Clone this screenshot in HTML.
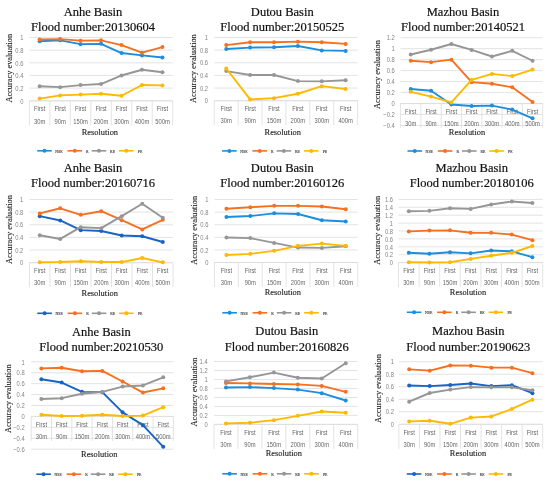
<!DOCTYPE html>
<html><head><meta charset="utf-8"><title>Flood charts</title>
<style>html,body{margin:0;padding:0;background:#fff;}svg{display:block;will-change:transform;}</style>
</head><body>
<svg width="550" height="482" viewBox="0 0 550 482">
<rect width="550" height="482" fill="#fff"/>
<line x1="29.40" y1="100.80" x2="172.70" y2="100.80" stroke="#DCDCDC" stroke-width="0.8"/>
<text x="23.40" y="103.50" text-anchor="end" font-family="'Liberation Sans', sans-serif" font-size="6.4" fill="#858585" textLength="3.24" lengthAdjust="spacingAndGlyphs">0</text>
<line x1="29.40" y1="88.14" x2="172.70" y2="88.14" stroke="#DCDCDC" stroke-width="0.8"/>
<text x="23.40" y="90.84" text-anchor="end" font-family="'Liberation Sans', sans-serif" font-size="6.4" fill="#858585" textLength="8.10" lengthAdjust="spacingAndGlyphs">0.2</text>
<line x1="29.40" y1="75.48" x2="172.70" y2="75.48" stroke="#DCDCDC" stroke-width="0.8"/>
<text x="23.40" y="78.18" text-anchor="end" font-family="'Liberation Sans', sans-serif" font-size="6.4" fill="#858585" textLength="8.10" lengthAdjust="spacingAndGlyphs">0.4</text>
<line x1="29.40" y1="62.82" x2="172.70" y2="62.82" stroke="#DCDCDC" stroke-width="0.8"/>
<text x="23.40" y="65.52" text-anchor="end" font-family="'Liberation Sans', sans-serif" font-size="6.4" fill="#858585" textLength="8.10" lengthAdjust="spacingAndGlyphs">0.6</text>
<line x1="29.40" y1="50.16" x2="172.70" y2="50.16" stroke="#DCDCDC" stroke-width="0.8"/>
<text x="23.40" y="52.86" text-anchor="end" font-family="'Liberation Sans', sans-serif" font-size="6.4" fill="#858585" textLength="8.10" lengthAdjust="spacingAndGlyphs">0.8</text>
<line x1="29.40" y1="37.50" x2="172.70" y2="37.50" stroke="#DCDCDC" stroke-width="0.8"/>
<text x="23.40" y="40.20" text-anchor="end" font-family="'Liberation Sans', sans-serif" font-size="6.4" fill="#858585" textLength="3.24" lengthAdjust="spacingAndGlyphs">1</text>
<line x1="29.40" y1="100.80" x2="29.40" y2="125.30" stroke="#DCDCDC" stroke-width="0.8"/>
<line x1="49.87" y1="100.80" x2="49.87" y2="125.30" stroke="#DCDCDC" stroke-width="0.8"/>
<line x1="70.34" y1="100.80" x2="70.34" y2="125.30" stroke="#DCDCDC" stroke-width="0.8"/>
<line x1="90.81" y1="100.80" x2="90.81" y2="125.30" stroke="#DCDCDC" stroke-width="0.8"/>
<line x1="111.29" y1="100.80" x2="111.29" y2="125.30" stroke="#DCDCDC" stroke-width="0.8"/>
<line x1="131.76" y1="100.80" x2="131.76" y2="125.30" stroke="#DCDCDC" stroke-width="0.8"/>
<line x1="152.23" y1="100.80" x2="152.23" y2="125.30" stroke="#DCDCDC" stroke-width="0.8"/>
<line x1="172.70" y1="100.80" x2="172.70" y2="125.30" stroke="#DCDCDC" stroke-width="0.8"/>
<line x1="29.40" y1="100.80" x2="172.70" y2="100.80" stroke="#DCDCDC" stroke-width="0.8"/>
<text x="39.64" y="111.30" text-anchor="middle" font-family="'Liberation Sans', sans-serif" font-size="6.4" fill="#656565" textLength="11.32" lengthAdjust="spacingAndGlyphs">First</text>
<text x="39.64" y="123.50" text-anchor="middle" font-family="'Liberation Sans', sans-serif" font-size="6.4" fill="#656565" textLength="11.33" lengthAdjust="spacingAndGlyphs">30m</text>
<text x="60.11" y="111.30" text-anchor="middle" font-family="'Liberation Sans', sans-serif" font-size="6.4" fill="#656565" textLength="11.32" lengthAdjust="spacingAndGlyphs">First</text>
<text x="60.11" y="123.50" text-anchor="middle" font-family="'Liberation Sans', sans-serif" font-size="6.4" fill="#656565" textLength="11.33" lengthAdjust="spacingAndGlyphs">90m</text>
<text x="80.58" y="111.30" text-anchor="middle" font-family="'Liberation Sans', sans-serif" font-size="6.4" fill="#656565" textLength="11.32" lengthAdjust="spacingAndGlyphs">First</text>
<text x="80.58" y="123.50" text-anchor="middle" font-family="'Liberation Sans', sans-serif" font-size="6.4" fill="#656565" textLength="14.57" lengthAdjust="spacingAndGlyphs">150m</text>
<text x="101.05" y="111.30" text-anchor="middle" font-family="'Liberation Sans', sans-serif" font-size="6.4" fill="#656565" textLength="11.32" lengthAdjust="spacingAndGlyphs">First</text>
<text x="101.05" y="123.50" text-anchor="middle" font-family="'Liberation Sans', sans-serif" font-size="6.4" fill="#656565" textLength="14.57" lengthAdjust="spacingAndGlyphs">200m</text>
<text x="121.52" y="111.30" text-anchor="middle" font-family="'Liberation Sans', sans-serif" font-size="6.4" fill="#656565" textLength="11.32" lengthAdjust="spacingAndGlyphs">First</text>
<text x="121.52" y="123.50" text-anchor="middle" font-family="'Liberation Sans', sans-serif" font-size="6.4" fill="#656565" textLength="14.57" lengthAdjust="spacingAndGlyphs">300m</text>
<text x="141.99" y="111.30" text-anchor="middle" font-family="'Liberation Sans', sans-serif" font-size="6.4" fill="#656565" textLength="11.32" lengthAdjust="spacingAndGlyphs">First</text>
<text x="141.99" y="123.50" text-anchor="middle" font-family="'Liberation Sans', sans-serif" font-size="6.4" fill="#656565" textLength="14.57" lengthAdjust="spacingAndGlyphs">400m</text>
<text x="162.46" y="111.30" text-anchor="middle" font-family="'Liberation Sans', sans-serif" font-size="6.4" fill="#656565" textLength="11.32" lengthAdjust="spacingAndGlyphs">First</text>
<text x="162.46" y="123.50" text-anchor="middle" font-family="'Liberation Sans', sans-serif" font-size="6.4" fill="#656565" textLength="14.57" lengthAdjust="spacingAndGlyphs">500m</text>
<polyline points="39.64,41.30 60.11,40.35 80.58,44.15 101.05,43.83 121.52,53.01 141.99,55.41 162.46,57.50" fill="none" stroke="#1C8EDD" stroke-width="1.9" stroke-linejoin="round" stroke-linecap="round"/>
<circle cx="39.64" cy="41.30" r="2.0" fill="#1C8EDD"/>
<circle cx="60.11" cy="40.35" r="2.0" fill="#1C8EDD"/>
<circle cx="80.58" cy="44.15" r="2.0" fill="#1C8EDD"/>
<circle cx="101.05" cy="43.83" r="2.0" fill="#1C8EDD"/>
<circle cx="121.52" cy="53.01" r="2.0" fill="#1C8EDD"/>
<circle cx="141.99" cy="55.41" r="2.0" fill="#1C8EDD"/>
<circle cx="162.46" cy="57.50" r="2.0" fill="#1C8EDD"/>
<polyline points="39.64,39.40 60.11,39.08 80.58,40.66 101.05,40.35 121.52,45.10 141.99,52.69 162.46,47.12" fill="none" stroke="#F6701F" stroke-width="1.9" stroke-linejoin="round" stroke-linecap="round"/>
<circle cx="39.64" cy="39.40" r="2.0" fill="#F6701F"/>
<circle cx="60.11" cy="39.08" r="2.0" fill="#F6701F"/>
<circle cx="80.58" cy="40.66" r="2.0" fill="#F6701F"/>
<circle cx="101.05" cy="40.35" r="2.0" fill="#F6701F"/>
<circle cx="121.52" cy="45.10" r="2.0" fill="#F6701F"/>
<circle cx="141.99" cy="52.69" r="2.0" fill="#F6701F"/>
<circle cx="162.46" cy="47.12" r="2.0" fill="#F6701F"/>
<polyline points="39.64,86.24 60.11,87.13 80.58,85.10 101.05,84.03 121.52,75.48 141.99,69.78 162.46,72.19" fill="none" stroke="#969696" stroke-width="1.9" stroke-linejoin="round" stroke-linecap="round"/>
<circle cx="39.64" cy="86.24" r="2.0" fill="#969696"/>
<circle cx="60.11" cy="87.13" r="2.0" fill="#969696"/>
<circle cx="80.58" cy="85.10" r="2.0" fill="#969696"/>
<circle cx="101.05" cy="84.03" r="2.0" fill="#969696"/>
<circle cx="121.52" cy="75.48" r="2.0" fill="#969696"/>
<circle cx="141.99" cy="69.78" r="2.0" fill="#969696"/>
<circle cx="162.46" cy="72.19" r="2.0" fill="#969696"/>
<polyline points="39.64,98.58 60.11,95.42 80.58,94.60 101.05,93.71 121.52,95.74 141.99,84.97 162.46,85.42" fill="none" stroke="#FFB900" stroke-width="1.9" stroke-linejoin="round" stroke-linecap="round"/>
<circle cx="39.64" cy="98.58" r="2.0" fill="#FFB900"/>
<circle cx="60.11" cy="95.42" r="2.0" fill="#FFB900"/>
<circle cx="80.58" cy="94.60" r="2.0" fill="#FFB900"/>
<circle cx="101.05" cy="93.71" r="2.0" fill="#FFB900"/>
<circle cx="121.52" cy="95.74" r="2.0" fill="#FFB900"/>
<circle cx="141.99" cy="84.97" r="2.0" fill="#FFB900"/>
<circle cx="162.46" cy="85.42" r="2.0" fill="#FFB900"/>
<text x="93.00" y="15.80" text-anchor="middle" font-family="'Liberation Serif', serif" font-size="12.5" fill="#111" stroke="#111" stroke-width="0.2">Anhe Basin</text>
<text x="93.00" y="30.50" text-anchor="middle" font-family="'Liberation Serif', serif" font-size="12.5" fill="#111" stroke="#111" stroke-width="0.2">Flood number:20130604</text>
<text transform="translate(12.40,68.20) rotate(-90)" text-anchor="middle" font-family="'Liberation Serif', serif" font-size="8.35" fill="#1a1a1a" stroke="#1a1a1a" stroke-width="0.12">Accuracy evaluation</text>
<text x="99.90" y="134.70" text-anchor="middle" font-family="'Liberation Serif', serif" font-size="8.4" fill="#1a1a1a" stroke="#1a1a1a" stroke-width="0.12">Resolution</text>
<line x1="37.20" y1="150.80" x2="51.80" y2="150.80" stroke="#1C8EDD" stroke-width="1.6"/>
<circle cx="44.50" cy="150.80" r="2.0" fill="#1C8EDD"/>
<text x="55.30" y="152.50" font-family="'Liberation Serif', serif" font-size="5" fill="#333" stroke="#333" stroke-width="0.12" textLength="7.37" lengthAdjust="spacingAndGlyphs">NSE</text>
<line x1="67.50" y1="150.80" x2="82.10" y2="150.80" stroke="#F6701F" stroke-width="1.6"/>
<circle cx="74.80" cy="150.80" r="2.0" fill="#F6701F"/>
<text x="86.10" y="152.50" font-family="'Liberation Serif', serif" font-size="5" fill="#333" stroke="#333" stroke-width="0.12" textLength="2.60" lengthAdjust="spacingAndGlyphs">R</text>
<line x1="91.70" y1="150.80" x2="106.30" y2="150.80" stroke="#969696" stroke-width="1.6"/>
<circle cx="99.00" cy="150.80" r="2.0" fill="#969696"/>
<text x="110.10" y="152.50" font-family="'Liberation Serif', serif" font-size="5" fill="#333" stroke="#333" stroke-width="0.12" textLength="4.98" lengthAdjust="spacingAndGlyphs">RE</text>
<line x1="119.00" y1="150.80" x2="133.60" y2="150.80" stroke="#FFB900" stroke-width="1.6"/>
<circle cx="126.30" cy="150.80" r="2.0" fill="#FFB900"/>
<text x="137.80" y="152.50" font-family="'Liberation Serif', serif" font-size="5" fill="#333" stroke="#333" stroke-width="0.12" textLength="4.55" lengthAdjust="spacingAndGlyphs">PE</text>
<line x1="214.30" y1="100.70" x2="357.60" y2="100.70" stroke="#DCDCDC" stroke-width="0.8"/>
<text x="208.00" y="103.40" text-anchor="end" font-family="'Liberation Sans', sans-serif" font-size="6.4" fill="#858585" textLength="3.24" lengthAdjust="spacingAndGlyphs">0</text>
<line x1="214.30" y1="88.06" x2="357.60" y2="88.06" stroke="#DCDCDC" stroke-width="0.8"/>
<text x="208.00" y="90.76" text-anchor="end" font-family="'Liberation Sans', sans-serif" font-size="6.4" fill="#858585" textLength="8.10" lengthAdjust="spacingAndGlyphs">0.2</text>
<line x1="214.30" y1="75.42" x2="357.60" y2="75.42" stroke="#DCDCDC" stroke-width="0.8"/>
<text x="208.00" y="78.12" text-anchor="end" font-family="'Liberation Sans', sans-serif" font-size="6.4" fill="#858585" textLength="8.10" lengthAdjust="spacingAndGlyphs">0.4</text>
<line x1="214.30" y1="62.78" x2="357.60" y2="62.78" stroke="#DCDCDC" stroke-width="0.8"/>
<text x="208.00" y="65.48" text-anchor="end" font-family="'Liberation Sans', sans-serif" font-size="6.4" fill="#858585" textLength="8.10" lengthAdjust="spacingAndGlyphs">0.6</text>
<line x1="214.30" y1="50.14" x2="357.60" y2="50.14" stroke="#DCDCDC" stroke-width="0.8"/>
<text x="208.00" y="52.84" text-anchor="end" font-family="'Liberation Sans', sans-serif" font-size="6.4" fill="#858585" textLength="8.10" lengthAdjust="spacingAndGlyphs">0.8</text>
<line x1="214.30" y1="37.50" x2="357.60" y2="37.50" stroke="#DCDCDC" stroke-width="0.8"/>
<text x="208.00" y="40.20" text-anchor="end" font-family="'Liberation Sans', sans-serif" font-size="6.4" fill="#858585" textLength="3.24" lengthAdjust="spacingAndGlyphs">1</text>
<line x1="214.30" y1="100.70" x2="214.30" y2="125.20" stroke="#DCDCDC" stroke-width="0.8"/>
<line x1="238.18" y1="100.70" x2="238.18" y2="125.20" stroke="#DCDCDC" stroke-width="0.8"/>
<line x1="262.07" y1="100.70" x2="262.07" y2="125.20" stroke="#DCDCDC" stroke-width="0.8"/>
<line x1="285.95" y1="100.70" x2="285.95" y2="125.20" stroke="#DCDCDC" stroke-width="0.8"/>
<line x1="309.83" y1="100.70" x2="309.83" y2="125.20" stroke="#DCDCDC" stroke-width="0.8"/>
<line x1="333.72" y1="100.70" x2="333.72" y2="125.20" stroke="#DCDCDC" stroke-width="0.8"/>
<line x1="357.60" y1="100.70" x2="357.60" y2="125.20" stroke="#DCDCDC" stroke-width="0.8"/>
<line x1="214.30" y1="100.70" x2="357.60" y2="100.70" stroke="#DCDCDC" stroke-width="0.8"/>
<text x="226.24" y="111.20" text-anchor="middle" font-family="'Liberation Sans', sans-serif" font-size="6.4" fill="#656565" textLength="11.32" lengthAdjust="spacingAndGlyphs">First</text>
<text x="226.24" y="123.40" text-anchor="middle" font-family="'Liberation Sans', sans-serif" font-size="6.4" fill="#656565" textLength="11.33" lengthAdjust="spacingAndGlyphs">30m</text>
<text x="250.12" y="111.20" text-anchor="middle" font-family="'Liberation Sans', sans-serif" font-size="6.4" fill="#656565" textLength="11.32" lengthAdjust="spacingAndGlyphs">First</text>
<text x="250.12" y="123.40" text-anchor="middle" font-family="'Liberation Sans', sans-serif" font-size="6.4" fill="#656565" textLength="11.33" lengthAdjust="spacingAndGlyphs">90m</text>
<text x="274.01" y="111.20" text-anchor="middle" font-family="'Liberation Sans', sans-serif" font-size="6.4" fill="#656565" textLength="11.32" lengthAdjust="spacingAndGlyphs">First</text>
<text x="274.01" y="123.40" text-anchor="middle" font-family="'Liberation Sans', sans-serif" font-size="6.4" fill="#656565" textLength="14.57" lengthAdjust="spacingAndGlyphs">150m</text>
<text x="297.89" y="111.20" text-anchor="middle" font-family="'Liberation Sans', sans-serif" font-size="6.4" fill="#656565" textLength="11.32" lengthAdjust="spacingAndGlyphs">First</text>
<text x="297.89" y="123.40" text-anchor="middle" font-family="'Liberation Sans', sans-serif" font-size="6.4" fill="#656565" textLength="14.57" lengthAdjust="spacingAndGlyphs">200m</text>
<text x="321.78" y="111.20" text-anchor="middle" font-family="'Liberation Sans', sans-serif" font-size="6.4" fill="#656565" textLength="11.32" lengthAdjust="spacingAndGlyphs">First</text>
<text x="321.78" y="123.40" text-anchor="middle" font-family="'Liberation Sans', sans-serif" font-size="6.4" fill="#656565" textLength="14.57" lengthAdjust="spacingAndGlyphs">300m</text>
<text x="345.66" y="111.20" text-anchor="middle" font-family="'Liberation Sans', sans-serif" font-size="6.4" fill="#656565" textLength="11.32" lengthAdjust="spacingAndGlyphs">First</text>
<text x="345.66" y="123.40" text-anchor="middle" font-family="'Liberation Sans', sans-serif" font-size="6.4" fill="#656565" textLength="14.57" lengthAdjust="spacingAndGlyphs">400m</text>
<polyline points="226.24,49.00 250.12,47.61 274.01,47.30 297.89,45.97 321.78,50.39 345.66,50.90" fill="none" stroke="#1C8EDD" stroke-width="1.9" stroke-linejoin="round" stroke-linecap="round"/>
<circle cx="226.24" cy="49.00" r="2.0" fill="#1C8EDD"/>
<circle cx="250.12" cy="47.61" r="2.0" fill="#1C8EDD"/>
<circle cx="274.01" cy="47.30" r="2.0" fill="#1C8EDD"/>
<circle cx="297.89" cy="45.97" r="2.0" fill="#1C8EDD"/>
<circle cx="321.78" cy="50.39" r="2.0" fill="#1C8EDD"/>
<circle cx="345.66" cy="50.90" r="2.0" fill="#1C8EDD"/>
<polyline points="226.24,45.08 250.12,42.30 274.01,42.30 297.89,41.67 321.78,42.30 345.66,43.88" fill="none" stroke="#F6701F" stroke-width="1.9" stroke-linejoin="round" stroke-linecap="round"/>
<circle cx="226.24" cy="45.08" r="2.0" fill="#F6701F"/>
<circle cx="250.12" cy="42.30" r="2.0" fill="#F6701F"/>
<circle cx="274.01" cy="42.30" r="2.0" fill="#F6701F"/>
<circle cx="297.89" cy="41.67" r="2.0" fill="#F6701F"/>
<circle cx="321.78" cy="42.30" r="2.0" fill="#F6701F"/>
<circle cx="345.66" cy="43.88" r="2.0" fill="#F6701F"/>
<polyline points="226.24,71.12 250.12,75.04 274.01,75.04 297.89,81.11 321.78,81.36 345.66,80.22" fill="none" stroke="#969696" stroke-width="1.9" stroke-linejoin="round" stroke-linecap="round"/>
<circle cx="226.24" cy="71.12" r="2.0" fill="#969696"/>
<circle cx="250.12" cy="75.04" r="2.0" fill="#969696"/>
<circle cx="274.01" cy="75.04" r="2.0" fill="#969696"/>
<circle cx="297.89" cy="81.11" r="2.0" fill="#969696"/>
<circle cx="321.78" cy="81.36" r="2.0" fill="#969696"/>
<circle cx="345.66" cy="80.22" r="2.0" fill="#969696"/>
<polyline points="226.24,68.47 250.12,99.44 274.01,98.17 297.89,93.75 321.78,86.16 345.66,89.01" fill="none" stroke="#FFB900" stroke-width="1.9" stroke-linejoin="round" stroke-linecap="round"/>
<circle cx="226.24" cy="68.47" r="2.0" fill="#FFB900"/>
<circle cx="250.12" cy="99.44" r="2.0" fill="#FFB900"/>
<circle cx="274.01" cy="98.17" r="2.0" fill="#FFB900"/>
<circle cx="297.89" cy="93.75" r="2.0" fill="#FFB900"/>
<circle cx="321.78" cy="86.16" r="2.0" fill="#FFB900"/>
<circle cx="345.66" cy="89.01" r="2.0" fill="#FFB900"/>
<text x="282.30" y="15.80" text-anchor="middle" font-family="'Liberation Serif', serif" font-size="12.5" fill="#111" stroke="#111" stroke-width="0.2">Dutou Basin</text>
<text x="282.30" y="30.50" text-anchor="middle" font-family="'Liberation Serif', serif" font-size="12.5" fill="#111" stroke="#111" stroke-width="0.2">Flood number:20150525</text>
<text transform="translate(196.30,68.60) rotate(-90)" text-anchor="middle" font-family="'Liberation Serif', serif" font-size="8.35" fill="#1a1a1a" stroke="#1a1a1a" stroke-width="0.12">Accuracy evaluation</text>
<text x="282.70" y="134.60" text-anchor="middle" font-family="'Liberation Serif', serif" font-size="8.4" fill="#1a1a1a" stroke="#1a1a1a" stroke-width="0.12">Resolution</text>
<line x1="222.10" y1="150.90" x2="236.70" y2="150.90" stroke="#1C8EDD" stroke-width="1.6"/>
<circle cx="229.40" cy="150.90" r="2.0" fill="#1C8EDD"/>
<text x="240.20" y="152.60" font-family="'Liberation Serif', serif" font-size="5" fill="#333" stroke="#333" stroke-width="0.12" textLength="7.37" lengthAdjust="spacingAndGlyphs">NSE</text>
<line x1="252.40" y1="150.90" x2="267.00" y2="150.90" stroke="#F6701F" stroke-width="1.6"/>
<circle cx="259.70" cy="150.90" r="2.0" fill="#F6701F"/>
<text x="271.00" y="152.60" font-family="'Liberation Serif', serif" font-size="5" fill="#333" stroke="#333" stroke-width="0.12" textLength="2.60" lengthAdjust="spacingAndGlyphs">R</text>
<line x1="276.60" y1="150.90" x2="291.20" y2="150.90" stroke="#969696" stroke-width="1.6"/>
<circle cx="283.90" cy="150.90" r="2.0" fill="#969696"/>
<text x="295.00" y="152.60" font-family="'Liberation Serif', serif" font-size="5" fill="#333" stroke="#333" stroke-width="0.12" textLength="4.98" lengthAdjust="spacingAndGlyphs">RE</text>
<line x1="303.90" y1="150.90" x2="318.50" y2="150.90" stroke="#FFB900" stroke-width="1.6"/>
<circle cx="311.20" cy="150.90" r="2.0" fill="#FFB900"/>
<text x="322.70" y="152.60" font-family="'Liberation Serif', serif" font-size="5" fill="#333" stroke="#333" stroke-width="0.12" textLength="4.55" lengthAdjust="spacingAndGlyphs">PE</text>
<line x1="400.60" y1="125.50" x2="542.70" y2="125.50" stroke="#DCDCDC" stroke-width="0.8"/>
<text x="394.80" y="128.20" text-anchor="end" font-family="'Liberation Sans', sans-serif" font-size="6.4" fill="#858585" textLength="11.50" lengthAdjust="spacingAndGlyphs">−0.4</text>
<line x1="400.60" y1="114.53" x2="542.70" y2="114.53" stroke="#DCDCDC" stroke-width="0.8"/>
<text x="394.80" y="117.23" text-anchor="end" font-family="'Liberation Sans', sans-serif" font-size="6.4" fill="#858585" textLength="11.50" lengthAdjust="spacingAndGlyphs">−0.2</text>
<line x1="400.60" y1="103.55" x2="542.70" y2="103.55" stroke="#DCDCDC" stroke-width="0.8"/>
<text x="394.80" y="106.25" text-anchor="end" font-family="'Liberation Sans', sans-serif" font-size="6.4" fill="#858585" textLength="3.24" lengthAdjust="spacingAndGlyphs">0</text>
<line x1="400.60" y1="92.57" x2="542.70" y2="92.57" stroke="#DCDCDC" stroke-width="0.8"/>
<text x="394.80" y="95.27" text-anchor="end" font-family="'Liberation Sans', sans-serif" font-size="6.4" fill="#858585" textLength="8.10" lengthAdjust="spacingAndGlyphs">0.2</text>
<line x1="400.60" y1="81.60" x2="542.70" y2="81.60" stroke="#DCDCDC" stroke-width="0.8"/>
<text x="394.80" y="84.30" text-anchor="end" font-family="'Liberation Sans', sans-serif" font-size="6.4" fill="#858585" textLength="8.10" lengthAdjust="spacingAndGlyphs">0.4</text>
<line x1="400.60" y1="70.62" x2="542.70" y2="70.62" stroke="#DCDCDC" stroke-width="0.8"/>
<text x="394.80" y="73.33" text-anchor="end" font-family="'Liberation Sans', sans-serif" font-size="6.4" fill="#858585" textLength="8.10" lengthAdjust="spacingAndGlyphs">0.6</text>
<line x1="400.60" y1="59.65" x2="542.70" y2="59.65" stroke="#DCDCDC" stroke-width="0.8"/>
<text x="394.80" y="62.35" text-anchor="end" font-family="'Liberation Sans', sans-serif" font-size="6.4" fill="#858585" textLength="8.10" lengthAdjust="spacingAndGlyphs">0.8</text>
<line x1="400.60" y1="48.68" x2="542.70" y2="48.68" stroke="#DCDCDC" stroke-width="0.8"/>
<text x="394.80" y="51.38" text-anchor="end" font-family="'Liberation Sans', sans-serif" font-size="6.4" fill="#858585" textLength="3.24" lengthAdjust="spacingAndGlyphs">1</text>
<line x1="400.60" y1="37.70" x2="542.70" y2="37.70" stroke="#DCDCDC" stroke-width="0.8"/>
<text x="394.80" y="40.40" text-anchor="end" font-family="'Liberation Sans', sans-serif" font-size="6.4" fill="#858585" textLength="8.10" lengthAdjust="spacingAndGlyphs">1.2</text>
<line x1="400.60" y1="103.55" x2="400.60" y2="128.05" stroke="#DCDCDC" stroke-width="0.8"/>
<line x1="420.90" y1="103.55" x2="420.90" y2="128.05" stroke="#DCDCDC" stroke-width="0.8"/>
<line x1="441.20" y1="103.55" x2="441.20" y2="128.05" stroke="#DCDCDC" stroke-width="0.8"/>
<line x1="461.50" y1="103.55" x2="461.50" y2="128.05" stroke="#DCDCDC" stroke-width="0.8"/>
<line x1="481.80" y1="103.55" x2="481.80" y2="128.05" stroke="#DCDCDC" stroke-width="0.8"/>
<line x1="502.10" y1="103.55" x2="502.10" y2="128.05" stroke="#DCDCDC" stroke-width="0.8"/>
<line x1="522.40" y1="103.55" x2="522.40" y2="128.05" stroke="#DCDCDC" stroke-width="0.8"/>
<line x1="542.70" y1="103.55" x2="542.70" y2="128.05" stroke="#DCDCDC" stroke-width="0.8"/>
<line x1="400.60" y1="103.55" x2="542.70" y2="103.55" stroke="#DCDCDC" stroke-width="0.8"/>
<text x="410.75" y="114.05" text-anchor="middle" font-family="'Liberation Sans', sans-serif" font-size="6.4" fill="#656565" textLength="11.32" lengthAdjust="spacingAndGlyphs">First</text>
<text x="410.75" y="126.25" text-anchor="middle" font-family="'Liberation Sans', sans-serif" font-size="6.4" fill="#656565" textLength="11.33" lengthAdjust="spacingAndGlyphs">30m</text>
<text x="431.05" y="114.05" text-anchor="middle" font-family="'Liberation Sans', sans-serif" font-size="6.4" fill="#656565" textLength="11.32" lengthAdjust="spacingAndGlyphs">First</text>
<text x="431.05" y="126.25" text-anchor="middle" font-family="'Liberation Sans', sans-serif" font-size="6.4" fill="#656565" textLength="11.33" lengthAdjust="spacingAndGlyphs">90m</text>
<text x="451.35" y="114.05" text-anchor="middle" font-family="'Liberation Sans', sans-serif" font-size="6.4" fill="#656565" textLength="11.32" lengthAdjust="spacingAndGlyphs">First</text>
<text x="451.35" y="126.25" text-anchor="middle" font-family="'Liberation Sans', sans-serif" font-size="6.4" fill="#656565" textLength="14.57" lengthAdjust="spacingAndGlyphs">150m</text>
<text x="471.65" y="114.05" text-anchor="middle" font-family="'Liberation Sans', sans-serif" font-size="6.4" fill="#656565" textLength="11.32" lengthAdjust="spacingAndGlyphs">First</text>
<text x="471.65" y="126.25" text-anchor="middle" font-family="'Liberation Sans', sans-serif" font-size="6.4" fill="#656565" textLength="14.57" lengthAdjust="spacingAndGlyphs">200m</text>
<text x="491.95" y="114.05" text-anchor="middle" font-family="'Liberation Sans', sans-serif" font-size="6.4" fill="#656565" textLength="11.32" lengthAdjust="spacingAndGlyphs">First</text>
<text x="491.95" y="126.25" text-anchor="middle" font-family="'Liberation Sans', sans-serif" font-size="6.4" fill="#656565" textLength="14.57" lengthAdjust="spacingAndGlyphs">300m</text>
<text x="512.25" y="114.05" text-anchor="middle" font-family="'Liberation Sans', sans-serif" font-size="6.4" fill="#656565" textLength="11.32" lengthAdjust="spacingAndGlyphs">First</text>
<text x="512.25" y="126.25" text-anchor="middle" font-family="'Liberation Sans', sans-serif" font-size="6.4" fill="#656565" textLength="14.57" lengthAdjust="spacingAndGlyphs">400m</text>
<text x="532.55" y="114.05" text-anchor="middle" font-family="'Liberation Sans', sans-serif" font-size="6.4" fill="#656565" textLength="11.32" lengthAdjust="spacingAndGlyphs">First</text>
<text x="532.55" y="126.25" text-anchor="middle" font-family="'Liberation Sans', sans-serif" font-size="6.4" fill="#656565" textLength="14.57" lengthAdjust="spacingAndGlyphs">500m</text>
<polyline points="410.75,88.95 431.05,90.76 451.35,104.54 471.65,105.96 491.95,105.58 512.25,109.59 532.55,118.37" fill="none" stroke="#1C8EDD" stroke-width="1.9" stroke-linejoin="round" stroke-linecap="round"/>
<circle cx="410.75" cy="88.95" r="2.0" fill="#1C8EDD"/>
<circle cx="431.05" cy="90.76" r="2.0" fill="#1C8EDD"/>
<circle cx="451.35" cy="104.54" r="2.0" fill="#1C8EDD"/>
<circle cx="471.65" cy="105.96" r="2.0" fill="#1C8EDD"/>
<circle cx="491.95" cy="105.58" r="2.0" fill="#1C8EDD"/>
<circle cx="512.25" cy="109.59" r="2.0" fill="#1C8EDD"/>
<circle cx="532.55" cy="118.37" r="2.0" fill="#1C8EDD"/>
<polyline points="410.75,60.75 431.05,62.17 451.35,59.65 471.65,82.15 491.95,83.80 512.25,87.25 532.55,101.90" fill="none" stroke="#F6701F" stroke-width="1.9" stroke-linejoin="round" stroke-linecap="round"/>
<circle cx="410.75" cy="60.75" r="2.0" fill="#F6701F"/>
<circle cx="431.05" cy="62.17" r="2.0" fill="#F6701F"/>
<circle cx="451.35" cy="59.65" r="2.0" fill="#F6701F"/>
<circle cx="471.65" cy="82.15" r="2.0" fill="#F6701F"/>
<circle cx="491.95" cy="83.80" r="2.0" fill="#F6701F"/>
<circle cx="512.25" cy="87.25" r="2.0" fill="#F6701F"/>
<circle cx="532.55" cy="101.90" r="2.0" fill="#F6701F"/>
<polyline points="410.75,54.49 431.05,49.77 451.35,44.01 471.65,49.88 491.95,56.52 512.25,50.87 532.55,60.75" fill="none" stroke="#969696" stroke-width="1.9" stroke-linejoin="round" stroke-linecap="round"/>
<circle cx="410.75" cy="54.49" r="2.0" fill="#969696"/>
<circle cx="431.05" cy="49.77" r="2.0" fill="#969696"/>
<circle cx="451.35" cy="44.01" r="2.0" fill="#969696"/>
<circle cx="471.65" cy="49.88" r="2.0" fill="#969696"/>
<circle cx="491.95" cy="56.52" r="2.0" fill="#969696"/>
<circle cx="512.25" cy="50.87" r="2.0" fill="#969696"/>
<circle cx="532.55" cy="60.75" r="2.0" fill="#969696"/>
<polyline points="410.75,91.86 431.05,96.58 451.35,102.45 471.65,79.95 491.95,73.92 512.25,76.11 532.55,69.53" fill="none" stroke="#FFB900" stroke-width="1.9" stroke-linejoin="round" stroke-linecap="round"/>
<circle cx="410.75" cy="91.86" r="2.0" fill="#FFB900"/>
<circle cx="431.05" cy="96.58" r="2.0" fill="#FFB900"/>
<circle cx="451.35" cy="102.45" r="2.0" fill="#FFB900"/>
<circle cx="471.65" cy="79.95" r="2.0" fill="#FFB900"/>
<circle cx="491.95" cy="73.92" r="2.0" fill="#FFB900"/>
<circle cx="512.25" cy="76.11" r="2.0" fill="#FFB900"/>
<circle cx="532.55" cy="69.53" r="2.0" fill="#FFB900"/>
<text x="463.00" y="15.80" text-anchor="middle" font-family="'Liberation Serif', serif" font-size="12.5" fill="#111" stroke="#111" stroke-width="0.2">Mazhou Basin</text>
<text x="463.00" y="30.50" text-anchor="middle" font-family="'Liberation Serif', serif" font-size="12.5" fill="#111" stroke="#111" stroke-width="0.2">Flood number:20140521</text>
<text transform="translate(380.30,74.50) rotate(-90)" text-anchor="middle" font-family="'Liberation Serif', serif" font-size="8.35" fill="#1a1a1a" stroke="#1a1a1a" stroke-width="0.12">Accuracy evaluation</text>
<text x="467.00" y="135.20" text-anchor="middle" font-family="'Liberation Serif', serif" font-size="8.4" fill="#1a1a1a" stroke="#1a1a1a" stroke-width="0.12">Resolution</text>
<line x1="407.50" y1="151.00" x2="422.10" y2="151.00" stroke="#1C8EDD" stroke-width="1.6"/>
<circle cx="414.80" cy="151.00" r="2.0" fill="#1C8EDD"/>
<text x="425.60" y="152.70" font-family="'Liberation Serif', serif" font-size="5" fill="#333" stroke="#333" stroke-width="0.12" textLength="7.37" lengthAdjust="spacingAndGlyphs">NSE</text>
<line x1="437.80" y1="151.00" x2="452.40" y2="151.00" stroke="#F6701F" stroke-width="1.6"/>
<circle cx="445.10" cy="151.00" r="2.0" fill="#F6701F"/>
<text x="456.40" y="152.70" font-family="'Liberation Serif', serif" font-size="5" fill="#333" stroke="#333" stroke-width="0.12" textLength="2.60" lengthAdjust="spacingAndGlyphs">R</text>
<line x1="462.00" y1="151.00" x2="476.60" y2="151.00" stroke="#969696" stroke-width="1.6"/>
<circle cx="469.30" cy="151.00" r="2.0" fill="#969696"/>
<text x="480.40" y="152.70" font-family="'Liberation Serif', serif" font-size="5" fill="#333" stroke="#333" stroke-width="0.12" textLength="4.98" lengthAdjust="spacingAndGlyphs">RE</text>
<line x1="489.30" y1="151.00" x2="503.90" y2="151.00" stroke="#FFB900" stroke-width="1.6"/>
<circle cx="496.60" cy="151.00" r="2.0" fill="#FFB900"/>
<text x="508.10" y="152.70" font-family="'Liberation Serif', serif" font-size="5" fill="#333" stroke="#333" stroke-width="0.12" textLength="4.55" lengthAdjust="spacingAndGlyphs">PE</text>
<line x1="29.50" y1="262.70" x2="173.00" y2="262.70" stroke="#DCDCDC" stroke-width="0.8"/>
<text x="23.30" y="265.40" text-anchor="end" font-family="'Liberation Sans', sans-serif" font-size="6.4" fill="#858585" textLength="3.24" lengthAdjust="spacingAndGlyphs">0</text>
<line x1="29.50" y1="250.06" x2="173.00" y2="250.06" stroke="#DCDCDC" stroke-width="0.8"/>
<text x="23.30" y="252.76" text-anchor="end" font-family="'Liberation Sans', sans-serif" font-size="6.4" fill="#858585" textLength="8.10" lengthAdjust="spacingAndGlyphs">0.2</text>
<line x1="29.50" y1="237.42" x2="173.00" y2="237.42" stroke="#DCDCDC" stroke-width="0.8"/>
<text x="23.30" y="240.12" text-anchor="end" font-family="'Liberation Sans', sans-serif" font-size="6.4" fill="#858585" textLength="8.10" lengthAdjust="spacingAndGlyphs">0.4</text>
<line x1="29.50" y1="224.78" x2="173.00" y2="224.78" stroke="#DCDCDC" stroke-width="0.8"/>
<text x="23.30" y="227.48" text-anchor="end" font-family="'Liberation Sans', sans-serif" font-size="6.4" fill="#858585" textLength="8.10" lengthAdjust="spacingAndGlyphs">0.6</text>
<line x1="29.50" y1="212.14" x2="173.00" y2="212.14" stroke="#DCDCDC" stroke-width="0.8"/>
<text x="23.30" y="214.84" text-anchor="end" font-family="'Liberation Sans', sans-serif" font-size="6.4" fill="#858585" textLength="8.10" lengthAdjust="spacingAndGlyphs">0.8</text>
<line x1="29.50" y1="199.50" x2="173.00" y2="199.50" stroke="#DCDCDC" stroke-width="0.8"/>
<text x="23.30" y="202.20" text-anchor="end" font-family="'Liberation Sans', sans-serif" font-size="6.4" fill="#858585" textLength="3.24" lengthAdjust="spacingAndGlyphs">1</text>
<line x1="29.50" y1="262.70" x2="29.50" y2="287.20" stroke="#DCDCDC" stroke-width="0.8"/>
<line x1="50.00" y1="262.70" x2="50.00" y2="287.20" stroke="#DCDCDC" stroke-width="0.8"/>
<line x1="70.50" y1="262.70" x2="70.50" y2="287.20" stroke="#DCDCDC" stroke-width="0.8"/>
<line x1="91.00" y1="262.70" x2="91.00" y2="287.20" stroke="#DCDCDC" stroke-width="0.8"/>
<line x1="111.50" y1="262.70" x2="111.50" y2="287.20" stroke="#DCDCDC" stroke-width="0.8"/>
<line x1="132.00" y1="262.70" x2="132.00" y2="287.20" stroke="#DCDCDC" stroke-width="0.8"/>
<line x1="152.50" y1="262.70" x2="152.50" y2="287.20" stroke="#DCDCDC" stroke-width="0.8"/>
<line x1="173.00" y1="262.70" x2="173.00" y2="287.20" stroke="#DCDCDC" stroke-width="0.8"/>
<line x1="29.50" y1="262.70" x2="173.00" y2="262.70" stroke="#DCDCDC" stroke-width="0.8"/>
<text x="39.75" y="273.20" text-anchor="middle" font-family="'Liberation Sans', sans-serif" font-size="6.4" fill="#656565" textLength="11.32" lengthAdjust="spacingAndGlyphs">First</text>
<text x="39.75" y="285.40" text-anchor="middle" font-family="'Liberation Sans', sans-serif" font-size="6.4" fill="#656565" textLength="11.33" lengthAdjust="spacingAndGlyphs">30m</text>
<text x="60.25" y="273.20" text-anchor="middle" font-family="'Liberation Sans', sans-serif" font-size="6.4" fill="#656565" textLength="11.32" lengthAdjust="spacingAndGlyphs">First</text>
<text x="60.25" y="285.40" text-anchor="middle" font-family="'Liberation Sans', sans-serif" font-size="6.4" fill="#656565" textLength="11.33" lengthAdjust="spacingAndGlyphs">90m</text>
<text x="80.75" y="273.20" text-anchor="middle" font-family="'Liberation Sans', sans-serif" font-size="6.4" fill="#656565" textLength="11.32" lengthAdjust="spacingAndGlyphs">First</text>
<text x="80.75" y="285.40" text-anchor="middle" font-family="'Liberation Sans', sans-serif" font-size="6.4" fill="#656565" textLength="14.57" lengthAdjust="spacingAndGlyphs">150m</text>
<text x="101.25" y="273.20" text-anchor="middle" font-family="'Liberation Sans', sans-serif" font-size="6.4" fill="#656565" textLength="11.32" lengthAdjust="spacingAndGlyphs">First</text>
<text x="101.25" y="285.40" text-anchor="middle" font-family="'Liberation Sans', sans-serif" font-size="6.4" fill="#656565" textLength="14.57" lengthAdjust="spacingAndGlyphs">200m</text>
<text x="121.75" y="273.20" text-anchor="middle" font-family="'Liberation Sans', sans-serif" font-size="6.4" fill="#656565" textLength="11.32" lengthAdjust="spacingAndGlyphs">First</text>
<text x="121.75" y="285.40" text-anchor="middle" font-family="'Liberation Sans', sans-serif" font-size="6.4" fill="#656565" textLength="14.57" lengthAdjust="spacingAndGlyphs">300m</text>
<text x="142.25" y="273.20" text-anchor="middle" font-family="'Liberation Sans', sans-serif" font-size="6.4" fill="#656565" textLength="11.32" lengthAdjust="spacingAndGlyphs">First</text>
<text x="142.25" y="285.40" text-anchor="middle" font-family="'Liberation Sans', sans-serif" font-size="6.4" fill="#656565" textLength="14.57" lengthAdjust="spacingAndGlyphs">400m</text>
<text x="162.75" y="273.20" text-anchor="middle" font-family="'Liberation Sans', sans-serif" font-size="6.4" fill="#656565" textLength="11.32" lengthAdjust="spacingAndGlyphs">First</text>
<text x="162.75" y="285.40" text-anchor="middle" font-family="'Liberation Sans', sans-serif" font-size="6.4" fill="#656565" textLength="14.57" lengthAdjust="spacingAndGlyphs">500m</text>
<polyline points="39.75,216.18 60.25,220.48 80.75,230.15 101.25,230.97 121.75,235.46 142.25,236.28 162.75,242.03" fill="none" stroke="#1763C6" stroke-width="1.9" stroke-linejoin="round" stroke-linecap="round"/>
<circle cx="39.75" cy="216.18" r="2.0" fill="#1763C6"/>
<circle cx="60.25" cy="220.48" r="2.0" fill="#1763C6"/>
<circle cx="80.75" cy="230.15" r="2.0" fill="#1763C6"/>
<circle cx="101.25" cy="230.97" r="2.0" fill="#1763C6"/>
<circle cx="121.75" cy="235.46" r="2.0" fill="#1763C6"/>
<circle cx="142.25" cy="236.28" r="2.0" fill="#1763C6"/>
<circle cx="162.75" cy="242.03" r="2.0" fill="#1763C6"/>
<polyline points="39.75,213.40 60.25,208.28 80.75,214.86 101.25,211.19 121.75,220.17 142.25,229.46 162.75,219.85" fill="none" stroke="#F6701F" stroke-width="1.9" stroke-linejoin="round" stroke-linecap="round"/>
<circle cx="39.75" cy="213.40" r="2.0" fill="#F6701F"/>
<circle cx="60.25" cy="208.28" r="2.0" fill="#F6701F"/>
<circle cx="80.75" cy="214.86" r="2.0" fill="#F6701F"/>
<circle cx="101.25" cy="211.19" r="2.0" fill="#F6701F"/>
<circle cx="121.75" cy="220.17" r="2.0" fill="#F6701F"/>
<circle cx="142.25" cy="229.46" r="2.0" fill="#F6701F"/>
<circle cx="162.75" cy="219.85" r="2.0" fill="#F6701F"/>
<polyline points="39.75,235.27 60.25,238.94 80.75,227.18 101.25,228.13 121.75,216.18 142.25,203.80 162.75,217.70" fill="none" stroke="#969696" stroke-width="1.9" stroke-linejoin="round" stroke-linecap="round"/>
<circle cx="39.75" cy="235.27" r="2.0" fill="#969696"/>
<circle cx="60.25" cy="238.94" r="2.0" fill="#969696"/>
<circle cx="80.75" cy="227.18" r="2.0" fill="#969696"/>
<circle cx="101.25" cy="228.13" r="2.0" fill="#969696"/>
<circle cx="121.75" cy="216.18" r="2.0" fill="#969696"/>
<circle cx="142.25" cy="203.80" r="2.0" fill="#969696"/>
<circle cx="162.75" cy="217.70" r="2.0" fill="#969696"/>
<polyline points="39.75,262.32 60.25,262.07 80.75,261.31 101.25,262.07 121.75,262.07 142.25,257.96 162.75,262.32" fill="none" stroke="#FFB900" stroke-width="1.9" stroke-linejoin="round" stroke-linecap="round"/>
<circle cx="39.75" cy="262.32" r="2.0" fill="#FFB900"/>
<circle cx="60.25" cy="262.07" r="2.0" fill="#FFB900"/>
<circle cx="80.75" cy="261.31" r="2.0" fill="#FFB900"/>
<circle cx="101.25" cy="262.07" r="2.0" fill="#FFB900"/>
<circle cx="121.75" cy="262.07" r="2.0" fill="#FFB900"/>
<circle cx="142.25" cy="257.96" r="2.0" fill="#FFB900"/>
<circle cx="162.75" cy="262.32" r="2.0" fill="#FFB900"/>
<text x="93.00" y="171.50" text-anchor="middle" font-family="'Liberation Serif', serif" font-size="12.5" fill="#111" stroke="#111" stroke-width="0.2">Anhe Basin</text>
<text x="93.00" y="186.70" text-anchor="middle" font-family="'Liberation Serif', serif" font-size="12.5" fill="#111" stroke="#111" stroke-width="0.2">Flood number:20160716</text>
<text transform="translate(12.40,229.50) rotate(-90)" text-anchor="middle" font-family="'Liberation Serif', serif" font-size="8.35" fill="#1a1a1a" stroke="#1a1a1a" stroke-width="0.12">Accuracy evaluation</text>
<text x="99.70" y="295.60" text-anchor="middle" font-family="'Liberation Serif', serif" font-size="8.4" fill="#1a1a1a" stroke="#1a1a1a" stroke-width="0.12">Resolution</text>
<line x1="37.30" y1="313.30" x2="51.90" y2="313.30" stroke="#1763C6" stroke-width="1.6"/>
<circle cx="44.60" cy="313.30" r="2.0" fill="#1763C6"/>
<text x="55.40" y="315.00" font-family="'Liberation Serif', serif" font-size="5" fill="#333" stroke="#333" stroke-width="0.12" textLength="7.37" lengthAdjust="spacingAndGlyphs">NSE</text>
<line x1="67.60" y1="313.30" x2="82.20" y2="313.30" stroke="#F6701F" stroke-width="1.6"/>
<circle cx="74.90" cy="313.30" r="2.0" fill="#F6701F"/>
<text x="86.20" y="315.00" font-family="'Liberation Serif', serif" font-size="5" fill="#333" stroke="#333" stroke-width="0.12" textLength="2.60" lengthAdjust="spacingAndGlyphs">R</text>
<line x1="91.80" y1="313.30" x2="106.40" y2="313.30" stroke="#969696" stroke-width="1.6"/>
<circle cx="99.10" cy="313.30" r="2.0" fill="#969696"/>
<text x="110.20" y="315.00" font-family="'Liberation Serif', serif" font-size="5" fill="#333" stroke="#333" stroke-width="0.12" textLength="4.98" lengthAdjust="spacingAndGlyphs">RE</text>
<line x1="119.10" y1="313.30" x2="133.70" y2="313.30" stroke="#FFB900" stroke-width="1.6"/>
<circle cx="126.40" cy="313.30" r="2.0" fill="#FFB900"/>
<text x="137.90" y="315.00" font-family="'Liberation Serif', serif" font-size="5" fill="#333" stroke="#333" stroke-width="0.12" textLength="4.55" lengthAdjust="spacingAndGlyphs">PE</text>
<line x1="214.50" y1="262.50" x2="357.70" y2="262.50" stroke="#DCDCDC" stroke-width="0.8"/>
<text x="208.40" y="265.20" text-anchor="end" font-family="'Liberation Sans', sans-serif" font-size="6.4" fill="#858585" textLength="3.24" lengthAdjust="spacingAndGlyphs">0</text>
<line x1="214.50" y1="249.90" x2="357.70" y2="249.90" stroke="#DCDCDC" stroke-width="0.8"/>
<text x="208.40" y="252.60" text-anchor="end" font-family="'Liberation Sans', sans-serif" font-size="6.4" fill="#858585" textLength="8.10" lengthAdjust="spacingAndGlyphs">0.2</text>
<line x1="214.50" y1="237.30" x2="357.70" y2="237.30" stroke="#DCDCDC" stroke-width="0.8"/>
<text x="208.40" y="240.00" text-anchor="end" font-family="'Liberation Sans', sans-serif" font-size="6.4" fill="#858585" textLength="8.10" lengthAdjust="spacingAndGlyphs">0.4</text>
<line x1="214.50" y1="224.70" x2="357.70" y2="224.70" stroke="#DCDCDC" stroke-width="0.8"/>
<text x="208.40" y="227.40" text-anchor="end" font-family="'Liberation Sans', sans-serif" font-size="6.4" fill="#858585" textLength="8.10" lengthAdjust="spacingAndGlyphs">0.6</text>
<line x1="214.50" y1="212.10" x2="357.70" y2="212.10" stroke="#DCDCDC" stroke-width="0.8"/>
<text x="208.40" y="214.80" text-anchor="end" font-family="'Liberation Sans', sans-serif" font-size="6.4" fill="#858585" textLength="8.10" lengthAdjust="spacingAndGlyphs">0.8</text>
<line x1="214.50" y1="199.50" x2="357.70" y2="199.50" stroke="#DCDCDC" stroke-width="0.8"/>
<text x="208.40" y="202.20" text-anchor="end" font-family="'Liberation Sans', sans-serif" font-size="6.4" fill="#858585" textLength="3.24" lengthAdjust="spacingAndGlyphs">1</text>
<line x1="214.50" y1="262.50" x2="214.50" y2="287.00" stroke="#DCDCDC" stroke-width="0.8"/>
<line x1="238.37" y1="262.50" x2="238.37" y2="287.00" stroke="#DCDCDC" stroke-width="0.8"/>
<line x1="262.23" y1="262.50" x2="262.23" y2="287.00" stroke="#DCDCDC" stroke-width="0.8"/>
<line x1="286.10" y1="262.50" x2="286.10" y2="287.00" stroke="#DCDCDC" stroke-width="0.8"/>
<line x1="309.97" y1="262.50" x2="309.97" y2="287.00" stroke="#DCDCDC" stroke-width="0.8"/>
<line x1="333.83" y1="262.50" x2="333.83" y2="287.00" stroke="#DCDCDC" stroke-width="0.8"/>
<line x1="357.70" y1="262.50" x2="357.70" y2="287.00" stroke="#DCDCDC" stroke-width="0.8"/>
<line x1="214.50" y1="262.50" x2="357.70" y2="262.50" stroke="#DCDCDC" stroke-width="0.8"/>
<text x="226.43" y="273.00" text-anchor="middle" font-family="'Liberation Sans', sans-serif" font-size="6.4" fill="#656565" textLength="11.32" lengthAdjust="spacingAndGlyphs">First</text>
<text x="226.43" y="285.20" text-anchor="middle" font-family="'Liberation Sans', sans-serif" font-size="6.4" fill="#656565" textLength="11.33" lengthAdjust="spacingAndGlyphs">30m</text>
<text x="250.30" y="273.00" text-anchor="middle" font-family="'Liberation Sans', sans-serif" font-size="6.4" fill="#656565" textLength="11.32" lengthAdjust="spacingAndGlyphs">First</text>
<text x="250.30" y="285.20" text-anchor="middle" font-family="'Liberation Sans', sans-serif" font-size="6.4" fill="#656565" textLength="11.33" lengthAdjust="spacingAndGlyphs">90m</text>
<text x="274.17" y="273.00" text-anchor="middle" font-family="'Liberation Sans', sans-serif" font-size="6.4" fill="#656565" textLength="11.32" lengthAdjust="spacingAndGlyphs">First</text>
<text x="274.17" y="285.20" text-anchor="middle" font-family="'Liberation Sans', sans-serif" font-size="6.4" fill="#656565" textLength="14.57" lengthAdjust="spacingAndGlyphs">150m</text>
<text x="298.03" y="273.00" text-anchor="middle" font-family="'Liberation Sans', sans-serif" font-size="6.4" fill="#656565" textLength="11.32" lengthAdjust="spacingAndGlyphs">First</text>
<text x="298.03" y="285.20" text-anchor="middle" font-family="'Liberation Sans', sans-serif" font-size="6.4" fill="#656565" textLength="14.57" lengthAdjust="spacingAndGlyphs">200m</text>
<text x="321.90" y="273.00" text-anchor="middle" font-family="'Liberation Sans', sans-serif" font-size="6.4" fill="#656565" textLength="11.32" lengthAdjust="spacingAndGlyphs">First</text>
<text x="321.90" y="285.20" text-anchor="middle" font-family="'Liberation Sans', sans-serif" font-size="6.4" fill="#656565" textLength="14.57" lengthAdjust="spacingAndGlyphs">300m</text>
<text x="345.77" y="273.00" text-anchor="middle" font-family="'Liberation Sans', sans-serif" font-size="6.4" fill="#656565" textLength="11.32" lengthAdjust="spacingAndGlyphs">First</text>
<text x="345.77" y="285.20" text-anchor="middle" font-family="'Liberation Sans', sans-serif" font-size="6.4" fill="#656565" textLength="14.57" lengthAdjust="spacingAndGlyphs">400m</text>
<polyline points="226.43,217.01 250.30,216.01 274.17,213.36 298.03,213.99 321.90,220.29 345.77,221.55" fill="none" stroke="#1C8EDD" stroke-width="1.9" stroke-linejoin="round" stroke-linecap="round"/>
<circle cx="226.43" cy="217.01" r="2.0" fill="#1C8EDD"/>
<circle cx="250.30" cy="216.01" r="2.0" fill="#1C8EDD"/>
<circle cx="274.17" cy="213.36" r="2.0" fill="#1C8EDD"/>
<circle cx="298.03" cy="213.99" r="2.0" fill="#1C8EDD"/>
<circle cx="321.90" cy="220.29" r="2.0" fill="#1C8EDD"/>
<circle cx="345.77" cy="221.55" r="2.0" fill="#1C8EDD"/>
<polyline points="226.43,208.76 250.30,207.25 274.17,205.86 298.03,205.86 321.90,206.56 345.77,209.26" fill="none" stroke="#F6701F" stroke-width="1.9" stroke-linejoin="round" stroke-linecap="round"/>
<circle cx="226.43" cy="208.76" r="2.0" fill="#F6701F"/>
<circle cx="250.30" cy="207.25" r="2.0" fill="#F6701F"/>
<circle cx="274.17" cy="205.86" r="2.0" fill="#F6701F"/>
<circle cx="298.03" cy="205.86" r="2.0" fill="#F6701F"/>
<circle cx="321.90" cy="206.56" r="2.0" fill="#F6701F"/>
<circle cx="345.77" cy="209.26" r="2.0" fill="#F6701F"/>
<polyline points="226.43,237.43 250.30,238.12 274.17,242.91 298.03,247.57 321.90,247.88 345.77,246.18" fill="none" stroke="#969696" stroke-width="1.9" stroke-linejoin="round" stroke-linecap="round"/>
<circle cx="226.43" cy="237.43" r="2.0" fill="#969696"/>
<circle cx="250.30" cy="238.12" r="2.0" fill="#969696"/>
<circle cx="274.17" cy="242.91" r="2.0" fill="#969696"/>
<circle cx="298.03" cy="247.57" r="2.0" fill="#969696"/>
<circle cx="321.90" cy="247.88" r="2.0" fill="#969696"/>
<circle cx="345.77" cy="246.18" r="2.0" fill="#969696"/>
<polyline points="226.43,254.94 250.30,253.87 274.17,250.84 298.03,245.87 321.90,243.60 345.77,245.87" fill="none" stroke="#FFB900" stroke-width="1.9" stroke-linejoin="round" stroke-linecap="round"/>
<circle cx="226.43" cy="254.94" r="2.0" fill="#FFB900"/>
<circle cx="250.30" cy="253.87" r="2.0" fill="#FFB900"/>
<circle cx="274.17" cy="250.84" r="2.0" fill="#FFB900"/>
<circle cx="298.03" cy="245.87" r="2.0" fill="#FFB900"/>
<circle cx="321.90" cy="243.60" r="2.0" fill="#FFB900"/>
<circle cx="345.77" cy="245.87" r="2.0" fill="#FFB900"/>
<text x="282.30" y="171.50" text-anchor="middle" font-family="'Liberation Serif', serif" font-size="12.5" fill="#111" stroke="#111" stroke-width="0.2">Dutou Basin</text>
<text x="282.30" y="186.70" text-anchor="middle" font-family="'Liberation Serif', serif" font-size="12.5" fill="#111" stroke="#111" stroke-width="0.2">Flood number:20160126</text>
<text transform="translate(196.50,230.30) rotate(-90)" text-anchor="middle" font-family="'Liberation Serif', serif" font-size="8.35" fill="#1a1a1a" stroke="#1a1a1a" stroke-width="0.12">Accuracy evaluation</text>
<text x="282.80" y="295.00" text-anchor="middle" font-family="'Liberation Serif', serif" font-size="8.4" fill="#1a1a1a" stroke="#1a1a1a" stroke-width="0.12">Resolution</text>
<line x1="222.30" y1="312.80" x2="236.90" y2="312.80" stroke="#1C8EDD" stroke-width="1.6"/>
<circle cx="229.60" cy="312.80" r="2.0" fill="#1C8EDD"/>
<text x="240.40" y="314.50" font-family="'Liberation Serif', serif" font-size="5" fill="#333" stroke="#333" stroke-width="0.12" textLength="7.37" lengthAdjust="spacingAndGlyphs">NSE</text>
<line x1="252.60" y1="312.80" x2="267.20" y2="312.80" stroke="#F6701F" stroke-width="1.6"/>
<circle cx="259.90" cy="312.80" r="2.0" fill="#F6701F"/>
<text x="271.20" y="314.50" font-family="'Liberation Serif', serif" font-size="5" fill="#333" stroke="#333" stroke-width="0.12" textLength="2.60" lengthAdjust="spacingAndGlyphs">R</text>
<line x1="276.80" y1="312.80" x2="291.40" y2="312.80" stroke="#969696" stroke-width="1.6"/>
<circle cx="284.10" cy="312.80" r="2.0" fill="#969696"/>
<text x="295.20" y="314.50" font-family="'Liberation Serif', serif" font-size="5" fill="#333" stroke="#333" stroke-width="0.12" textLength="4.98" lengthAdjust="spacingAndGlyphs">RE</text>
<line x1="304.10" y1="312.80" x2="318.70" y2="312.80" stroke="#FFB900" stroke-width="1.6"/>
<circle cx="311.40" cy="312.80" r="2.0" fill="#FFB900"/>
<text x="322.90" y="314.50" font-family="'Liberation Serif', serif" font-size="5" fill="#333" stroke="#333" stroke-width="0.12" textLength="4.55" lengthAdjust="spacingAndGlyphs">PE</text>
<line x1="398.50" y1="262.60" x2="542.70" y2="262.60" stroke="#DCDCDC" stroke-width="0.8"/>
<text x="393.00" y="265.30" text-anchor="end" font-family="'Liberation Sans', sans-serif" font-size="6.4" fill="#858585" textLength="3.24" lengthAdjust="spacingAndGlyphs">0</text>
<line x1="398.50" y1="254.70" x2="542.70" y2="254.70" stroke="#DCDCDC" stroke-width="0.8"/>
<text x="393.00" y="257.40" text-anchor="end" font-family="'Liberation Sans', sans-serif" font-size="6.4" fill="#858585" textLength="8.10" lengthAdjust="spacingAndGlyphs">0.2</text>
<line x1="398.50" y1="246.80" x2="542.70" y2="246.80" stroke="#DCDCDC" stroke-width="0.8"/>
<text x="393.00" y="249.50" text-anchor="end" font-family="'Liberation Sans', sans-serif" font-size="6.4" fill="#858585" textLength="8.10" lengthAdjust="spacingAndGlyphs">0.4</text>
<line x1="398.50" y1="238.90" x2="542.70" y2="238.90" stroke="#DCDCDC" stroke-width="0.8"/>
<text x="393.00" y="241.60" text-anchor="end" font-family="'Liberation Sans', sans-serif" font-size="6.4" fill="#858585" textLength="8.10" lengthAdjust="spacingAndGlyphs">0.6</text>
<line x1="398.50" y1="231.00" x2="542.70" y2="231.00" stroke="#DCDCDC" stroke-width="0.8"/>
<text x="393.00" y="233.70" text-anchor="end" font-family="'Liberation Sans', sans-serif" font-size="6.4" fill="#858585" textLength="8.10" lengthAdjust="spacingAndGlyphs">0.8</text>
<line x1="398.50" y1="223.10" x2="542.70" y2="223.10" stroke="#DCDCDC" stroke-width="0.8"/>
<text x="393.00" y="225.80" text-anchor="end" font-family="'Liberation Sans', sans-serif" font-size="6.4" fill="#858585" textLength="3.24" lengthAdjust="spacingAndGlyphs">1</text>
<line x1="398.50" y1="215.20" x2="542.70" y2="215.20" stroke="#DCDCDC" stroke-width="0.8"/>
<text x="393.00" y="217.90" text-anchor="end" font-family="'Liberation Sans', sans-serif" font-size="6.4" fill="#858585" textLength="8.10" lengthAdjust="spacingAndGlyphs">1.2</text>
<line x1="398.50" y1="207.30" x2="542.70" y2="207.30" stroke="#DCDCDC" stroke-width="0.8"/>
<text x="393.00" y="210.00" text-anchor="end" font-family="'Liberation Sans', sans-serif" font-size="6.4" fill="#858585" textLength="8.10" lengthAdjust="spacingAndGlyphs">1.4</text>
<line x1="398.50" y1="199.40" x2="542.70" y2="199.40" stroke="#DCDCDC" stroke-width="0.8"/>
<text x="393.00" y="202.10" text-anchor="end" font-family="'Liberation Sans', sans-serif" font-size="6.4" fill="#858585" textLength="8.10" lengthAdjust="spacingAndGlyphs">1.6</text>
<line x1="398.50" y1="262.60" x2="398.50" y2="287.10" stroke="#DCDCDC" stroke-width="0.8"/>
<line x1="419.10" y1="262.60" x2="419.10" y2="287.10" stroke="#DCDCDC" stroke-width="0.8"/>
<line x1="439.70" y1="262.60" x2="439.70" y2="287.10" stroke="#DCDCDC" stroke-width="0.8"/>
<line x1="460.30" y1="262.60" x2="460.30" y2="287.10" stroke="#DCDCDC" stroke-width="0.8"/>
<line x1="480.90" y1="262.60" x2="480.90" y2="287.10" stroke="#DCDCDC" stroke-width="0.8"/>
<line x1="501.50" y1="262.60" x2="501.50" y2="287.10" stroke="#DCDCDC" stroke-width="0.8"/>
<line x1="522.10" y1="262.60" x2="522.10" y2="287.10" stroke="#DCDCDC" stroke-width="0.8"/>
<line x1="542.70" y1="262.60" x2="542.70" y2="287.10" stroke="#DCDCDC" stroke-width="0.8"/>
<line x1="398.50" y1="262.60" x2="542.70" y2="262.60" stroke="#DCDCDC" stroke-width="0.8"/>
<text x="408.80" y="273.10" text-anchor="middle" font-family="'Liberation Sans', sans-serif" font-size="6.4" fill="#656565" textLength="11.32" lengthAdjust="spacingAndGlyphs">First</text>
<text x="408.80" y="285.30" text-anchor="middle" font-family="'Liberation Sans', sans-serif" font-size="6.4" fill="#656565" textLength="11.33" lengthAdjust="spacingAndGlyphs">30m</text>
<text x="429.40" y="273.10" text-anchor="middle" font-family="'Liberation Sans', sans-serif" font-size="6.4" fill="#656565" textLength="11.32" lengthAdjust="spacingAndGlyphs">First</text>
<text x="429.40" y="285.30" text-anchor="middle" font-family="'Liberation Sans', sans-serif" font-size="6.4" fill="#656565" textLength="11.33" lengthAdjust="spacingAndGlyphs">90m</text>
<text x="450.00" y="273.10" text-anchor="middle" font-family="'Liberation Sans', sans-serif" font-size="6.4" fill="#656565" textLength="11.32" lengthAdjust="spacingAndGlyphs">First</text>
<text x="450.00" y="285.30" text-anchor="middle" font-family="'Liberation Sans', sans-serif" font-size="6.4" fill="#656565" textLength="14.57" lengthAdjust="spacingAndGlyphs">150m</text>
<text x="470.60" y="273.10" text-anchor="middle" font-family="'Liberation Sans', sans-serif" font-size="6.4" fill="#656565" textLength="11.32" lengthAdjust="spacingAndGlyphs">First</text>
<text x="470.60" y="285.30" text-anchor="middle" font-family="'Liberation Sans', sans-serif" font-size="6.4" fill="#656565" textLength="14.57" lengthAdjust="spacingAndGlyphs">200m</text>
<text x="491.20" y="273.10" text-anchor="middle" font-family="'Liberation Sans', sans-serif" font-size="6.4" fill="#656565" textLength="11.32" lengthAdjust="spacingAndGlyphs">First</text>
<text x="491.20" y="285.30" text-anchor="middle" font-family="'Liberation Sans', sans-serif" font-size="6.4" fill="#656565" textLength="14.57" lengthAdjust="spacingAndGlyphs">300m</text>
<text x="511.80" y="273.10" text-anchor="middle" font-family="'Liberation Sans', sans-serif" font-size="6.4" fill="#656565" textLength="11.32" lengthAdjust="spacingAndGlyphs">First</text>
<text x="511.80" y="285.30" text-anchor="middle" font-family="'Liberation Sans', sans-serif" font-size="6.4" fill="#656565" textLength="14.57" lengthAdjust="spacingAndGlyphs">400m</text>
<text x="532.40" y="273.10" text-anchor="middle" font-family="'Liberation Sans', sans-serif" font-size="6.4" fill="#656565" textLength="11.32" lengthAdjust="spacingAndGlyphs">First</text>
<text x="532.40" y="285.30" text-anchor="middle" font-family="'Liberation Sans', sans-serif" font-size="6.4" fill="#656565" textLength="14.57" lengthAdjust="spacingAndGlyphs">500m</text>
<polyline points="408.80,252.76 429.40,253.75 450.00,252.29 470.60,253.36 491.20,250.47 511.80,251.30 532.40,257.19" fill="none" stroke="#1C8EDD" stroke-width="1.9" stroke-linejoin="round" stroke-linecap="round"/>
<circle cx="408.80" cy="252.76" r="2.0" fill="#1C8EDD"/>
<circle cx="429.40" cy="253.75" r="2.0" fill="#1C8EDD"/>
<circle cx="450.00" cy="252.29" r="2.0" fill="#1C8EDD"/>
<circle cx="470.60" cy="253.36" r="2.0" fill="#1C8EDD"/>
<circle cx="491.20" cy="250.47" r="2.0" fill="#1C8EDD"/>
<circle cx="511.80" cy="251.30" r="2.0" fill="#1C8EDD"/>
<circle cx="532.40" cy="257.19" r="2.0" fill="#1C8EDD"/>
<polyline points="408.80,231.40 429.40,230.61 450.00,230.33 470.60,232.70 491.20,232.86 511.80,234.56 532.40,240.16" fill="none" stroke="#F6701F" stroke-width="1.9" stroke-linejoin="round" stroke-linecap="round"/>
<circle cx="408.80" cy="231.40" r="2.0" fill="#F6701F"/>
<circle cx="429.40" cy="230.61" r="2.0" fill="#F6701F"/>
<circle cx="450.00" cy="230.33" r="2.0" fill="#F6701F"/>
<circle cx="470.60" cy="232.70" r="2.0" fill="#F6701F"/>
<circle cx="491.20" cy="232.86" r="2.0" fill="#F6701F"/>
<circle cx="511.80" cy="234.56" r="2.0" fill="#F6701F"/>
<circle cx="532.40" cy="240.16" r="2.0" fill="#F6701F"/>
<polyline points="408.80,211.25 429.40,210.86 450.00,208.25 470.60,208.88 491.20,204.54 511.80,201.57 532.40,202.96" fill="none" stroke="#969696" stroke-width="1.9" stroke-linejoin="round" stroke-linecap="round"/>
<circle cx="408.80" cy="211.25" r="2.0" fill="#969696"/>
<circle cx="429.40" cy="210.86" r="2.0" fill="#969696"/>
<circle cx="450.00" cy="208.25" r="2.0" fill="#969696"/>
<circle cx="470.60" cy="208.88" r="2.0" fill="#969696"/>
<circle cx="491.20" cy="204.54" r="2.0" fill="#969696"/>
<circle cx="511.80" cy="201.57" r="2.0" fill="#969696"/>
<circle cx="532.40" cy="202.96" r="2.0" fill="#969696"/>
<polyline points="408.80,262.28 429.40,262.48 450.00,262.28 470.60,258.93 491.20,255.81 511.80,252.80 532.40,246.01" fill="none" stroke="#FFB900" stroke-width="1.9" stroke-linejoin="round" stroke-linecap="round"/>
<circle cx="408.80" cy="262.28" r="2.0" fill="#FFB900"/>
<circle cx="429.40" cy="262.48" r="2.0" fill="#FFB900"/>
<circle cx="450.00" cy="262.28" r="2.0" fill="#FFB900"/>
<circle cx="470.60" cy="258.93" r="2.0" fill="#FFB900"/>
<circle cx="491.20" cy="255.81" r="2.0" fill="#FFB900"/>
<circle cx="511.80" cy="252.80" r="2.0" fill="#FFB900"/>
<circle cx="532.40" cy="246.01" r="2.0" fill="#FFB900"/>
<text x="471.80" y="171.50" text-anchor="middle" font-family="'Liberation Serif', serif" font-size="12.5" fill="#111" stroke="#111" stroke-width="0.2">Mazhou Basin</text>
<text x="471.80" y="186.70" text-anchor="middle" font-family="'Liberation Serif', serif" font-size="12.5" fill="#111" stroke="#111" stroke-width="0.2">Flood number:20180106</text>
<text transform="translate(380.30,230.30) rotate(-90)" text-anchor="middle" font-family="'Liberation Serif', serif" font-size="8.35" fill="#1a1a1a" stroke="#1a1a1a" stroke-width="0.12">Accuracy evaluation</text>
<text x="468.00" y="295.20" text-anchor="middle" font-family="'Liberation Serif', serif" font-size="8.4" fill="#1a1a1a" stroke="#1a1a1a" stroke-width="0.12">Resolution</text>
<line x1="406.80" y1="312.30" x2="421.40" y2="312.30" stroke="#1C8EDD" stroke-width="1.6"/>
<circle cx="414.10" cy="312.30" r="2.0" fill="#1C8EDD"/>
<text x="424.90" y="314.00" font-family="'Liberation Serif', serif" font-size="5" fill="#333" stroke="#333" stroke-width="0.12" textLength="7.37" lengthAdjust="spacingAndGlyphs">NSE</text>
<line x1="437.10" y1="312.30" x2="451.70" y2="312.30" stroke="#F6701F" stroke-width="1.6"/>
<circle cx="444.40" cy="312.30" r="2.0" fill="#F6701F"/>
<text x="455.70" y="314.00" font-family="'Liberation Serif', serif" font-size="5" fill="#333" stroke="#333" stroke-width="0.12" textLength="2.60" lengthAdjust="spacingAndGlyphs">R</text>
<line x1="461.30" y1="312.30" x2="475.90" y2="312.30" stroke="#969696" stroke-width="1.6"/>
<circle cx="468.60" cy="312.30" r="2.0" fill="#969696"/>
<text x="479.70" y="314.00" font-family="'Liberation Serif', serif" font-size="5" fill="#333" stroke="#333" stroke-width="0.12" textLength="4.98" lengthAdjust="spacingAndGlyphs">RE</text>
<line x1="488.60" y1="312.30" x2="503.20" y2="312.30" stroke="#FFB900" stroke-width="1.6"/>
<circle cx="495.90" cy="312.30" r="2.0" fill="#FFB900"/>
<text x="507.40" y="314.00" font-family="'Liberation Serif', serif" font-size="5" fill="#333" stroke="#333" stroke-width="0.12" textLength="4.55" lengthAdjust="spacingAndGlyphs">PE</text>
<line x1="31.20" y1="449.20" x2="173.40" y2="449.20" stroke="#DCDCDC" stroke-width="0.8"/>
<text x="24.70" y="451.90" text-anchor="end" font-family="'Liberation Sans', sans-serif" font-size="6.4" fill="#858585" textLength="11.50" lengthAdjust="spacingAndGlyphs">−0.6</text>
<line x1="31.20" y1="438.27" x2="173.40" y2="438.27" stroke="#DCDCDC" stroke-width="0.8"/>
<text x="24.70" y="440.97" text-anchor="end" font-family="'Liberation Sans', sans-serif" font-size="6.4" fill="#858585" textLength="11.50" lengthAdjust="spacingAndGlyphs">−0.4</text>
<line x1="31.20" y1="427.35" x2="173.40" y2="427.35" stroke="#DCDCDC" stroke-width="0.8"/>
<text x="24.70" y="430.05" text-anchor="end" font-family="'Liberation Sans', sans-serif" font-size="6.4" fill="#858585" textLength="11.50" lengthAdjust="spacingAndGlyphs">−0.2</text>
<line x1="31.20" y1="416.43" x2="173.40" y2="416.43" stroke="#DCDCDC" stroke-width="0.8"/>
<text x="24.70" y="419.12" text-anchor="end" font-family="'Liberation Sans', sans-serif" font-size="6.4" fill="#858585" textLength="3.24" lengthAdjust="spacingAndGlyphs">0</text>
<line x1="31.20" y1="405.50" x2="173.40" y2="405.50" stroke="#DCDCDC" stroke-width="0.8"/>
<text x="24.70" y="408.20" text-anchor="end" font-family="'Liberation Sans', sans-serif" font-size="6.4" fill="#858585" textLength="8.10" lengthAdjust="spacingAndGlyphs">0.2</text>
<line x1="31.20" y1="394.57" x2="173.40" y2="394.57" stroke="#DCDCDC" stroke-width="0.8"/>
<text x="24.70" y="397.27" text-anchor="end" font-family="'Liberation Sans', sans-serif" font-size="6.4" fill="#858585" textLength="8.10" lengthAdjust="spacingAndGlyphs">0.4</text>
<line x1="31.20" y1="383.65" x2="173.40" y2="383.65" stroke="#DCDCDC" stroke-width="0.8"/>
<text x="24.70" y="386.35" text-anchor="end" font-family="'Liberation Sans', sans-serif" font-size="6.4" fill="#858585" textLength="8.10" lengthAdjust="spacingAndGlyphs">0.6</text>
<line x1="31.20" y1="372.73" x2="173.40" y2="372.73" stroke="#DCDCDC" stroke-width="0.8"/>
<text x="24.70" y="375.43" text-anchor="end" font-family="'Liberation Sans', sans-serif" font-size="6.4" fill="#858585" textLength="8.10" lengthAdjust="spacingAndGlyphs">0.8</text>
<line x1="31.20" y1="361.80" x2="173.40" y2="361.80" stroke="#DCDCDC" stroke-width="0.8"/>
<text x="24.70" y="364.50" text-anchor="end" font-family="'Liberation Sans', sans-serif" font-size="6.4" fill="#858585" textLength="3.24" lengthAdjust="spacingAndGlyphs">1</text>
<line x1="31.20" y1="416.43" x2="31.20" y2="440.93" stroke="#DCDCDC" stroke-width="0.8"/>
<line x1="51.51" y1="416.43" x2="51.51" y2="440.93" stroke="#DCDCDC" stroke-width="0.8"/>
<line x1="71.83" y1="416.43" x2="71.83" y2="440.93" stroke="#DCDCDC" stroke-width="0.8"/>
<line x1="92.14" y1="416.43" x2="92.14" y2="440.93" stroke="#DCDCDC" stroke-width="0.8"/>
<line x1="112.46" y1="416.43" x2="112.46" y2="440.93" stroke="#DCDCDC" stroke-width="0.8"/>
<line x1="132.77" y1="416.43" x2="132.77" y2="440.93" stroke="#DCDCDC" stroke-width="0.8"/>
<line x1="153.09" y1="416.43" x2="153.09" y2="440.93" stroke="#DCDCDC" stroke-width="0.8"/>
<line x1="173.40" y1="416.43" x2="173.40" y2="440.93" stroke="#DCDCDC" stroke-width="0.8"/>
<line x1="31.20" y1="416.43" x2="173.40" y2="416.43" stroke="#DCDCDC" stroke-width="0.8"/>
<text x="41.36" y="426.93" text-anchor="middle" font-family="'Liberation Sans', sans-serif" font-size="6.4" fill="#656565" textLength="11.32" lengthAdjust="spacingAndGlyphs">First</text>
<text x="41.36" y="439.12" text-anchor="middle" font-family="'Liberation Sans', sans-serif" font-size="6.4" fill="#656565" textLength="11.33" lengthAdjust="spacingAndGlyphs">30m</text>
<text x="61.67" y="426.93" text-anchor="middle" font-family="'Liberation Sans', sans-serif" font-size="6.4" fill="#656565" textLength="11.32" lengthAdjust="spacingAndGlyphs">First</text>
<text x="61.67" y="439.12" text-anchor="middle" font-family="'Liberation Sans', sans-serif" font-size="6.4" fill="#656565" textLength="11.33" lengthAdjust="spacingAndGlyphs">90m</text>
<text x="81.99" y="426.93" text-anchor="middle" font-family="'Liberation Sans', sans-serif" font-size="6.4" fill="#656565" textLength="11.32" lengthAdjust="spacingAndGlyphs">First</text>
<text x="81.99" y="439.12" text-anchor="middle" font-family="'Liberation Sans', sans-serif" font-size="6.4" fill="#656565" textLength="14.57" lengthAdjust="spacingAndGlyphs">150m</text>
<text x="102.30" y="426.93" text-anchor="middle" font-family="'Liberation Sans', sans-serif" font-size="6.4" fill="#656565" textLength="11.32" lengthAdjust="spacingAndGlyphs">First</text>
<text x="102.30" y="439.12" text-anchor="middle" font-family="'Liberation Sans', sans-serif" font-size="6.4" fill="#656565" textLength="14.57" lengthAdjust="spacingAndGlyphs">200m</text>
<text x="122.61" y="426.93" text-anchor="middle" font-family="'Liberation Sans', sans-serif" font-size="6.4" fill="#656565" textLength="11.32" lengthAdjust="spacingAndGlyphs">First</text>
<text x="122.61" y="439.12" text-anchor="middle" font-family="'Liberation Sans', sans-serif" font-size="6.4" fill="#656565" textLength="14.57" lengthAdjust="spacingAndGlyphs">300m</text>
<text x="142.93" y="426.93" text-anchor="middle" font-family="'Liberation Sans', sans-serif" font-size="6.4" fill="#656565" textLength="11.32" lengthAdjust="spacingAndGlyphs">First</text>
<text x="142.93" y="439.12" text-anchor="middle" font-family="'Liberation Sans', sans-serif" font-size="6.4" fill="#656565" textLength="14.57" lengthAdjust="spacingAndGlyphs">400m</text>
<text x="163.24" y="426.93" text-anchor="middle" font-family="'Liberation Sans', sans-serif" font-size="6.4" fill="#656565" textLength="11.32" lengthAdjust="spacingAndGlyphs">First</text>
<text x="163.24" y="439.12" text-anchor="middle" font-family="'Liberation Sans', sans-serif" font-size="6.4" fill="#656565" textLength="14.57" lengthAdjust="spacingAndGlyphs">500m</text>
<polyline points="41.36,379.28 61.67,382.56 81.99,391.84 102.30,392.17 122.61,412.33 142.93,425.17 163.24,446.80" fill="none" stroke="#1763C6" stroke-width="1.9" stroke-linejoin="round" stroke-linecap="round"/>
<circle cx="41.36" cy="379.28" r="2.0" fill="#1763C6"/>
<circle cx="61.67" cy="382.56" r="2.0" fill="#1763C6"/>
<circle cx="81.99" cy="391.84" r="2.0" fill="#1763C6"/>
<circle cx="102.30" cy="392.17" r="2.0" fill="#1763C6"/>
<circle cx="122.61" cy="412.33" r="2.0" fill="#1763C6"/>
<circle cx="142.93" cy="425.17" r="2.0" fill="#1763C6"/>
<circle cx="163.24" cy="446.80" r="2.0" fill="#1763C6"/>
<polyline points="41.36,368.41 61.67,367.81 81.99,371.30 102.30,370.92 122.61,381.47 142.93,392.55 163.24,388.35" fill="none" stroke="#F6701F" stroke-width="1.9" stroke-linejoin="round" stroke-linecap="round"/>
<circle cx="41.36" cy="368.41" r="2.0" fill="#F6701F"/>
<circle cx="61.67" cy="367.81" r="2.0" fill="#F6701F"/>
<circle cx="81.99" cy="371.30" r="2.0" fill="#F6701F"/>
<circle cx="102.30" cy="370.92" r="2.0" fill="#F6701F"/>
<circle cx="122.61" cy="381.47" r="2.0" fill="#F6701F"/>
<circle cx="142.93" cy="392.55" r="2.0" fill="#F6701F"/>
<circle cx="163.24" cy="388.35" r="2.0" fill="#F6701F"/>
<polyline points="41.36,398.94 61.67,398.18 81.99,393.76 102.30,391.95 122.61,386.55 142.93,385.45 163.24,377.26" fill="none" stroke="#969696" stroke-width="1.9" stroke-linejoin="round" stroke-linecap="round"/>
<circle cx="41.36" cy="398.94" r="2.0" fill="#969696"/>
<circle cx="61.67" cy="398.18" r="2.0" fill="#969696"/>
<circle cx="81.99" cy="393.76" r="2.0" fill="#969696"/>
<circle cx="102.30" cy="391.95" r="2.0" fill="#969696"/>
<circle cx="122.61" cy="386.55" r="2.0" fill="#969696"/>
<circle cx="142.93" cy="385.45" r="2.0" fill="#969696"/>
<circle cx="163.24" cy="377.26" r="2.0" fill="#969696"/>
<polyline points="41.36,414.79 61.67,416.04 81.99,415.82 102.30,414.79 122.61,416.04 142.93,415.61 163.24,407.14" fill="none" stroke="#FFB900" stroke-width="1.9" stroke-linejoin="round" stroke-linecap="round"/>
<circle cx="41.36" cy="414.79" r="2.0" fill="#FFB900"/>
<circle cx="61.67" cy="416.04" r="2.0" fill="#FFB900"/>
<circle cx="81.99" cy="415.82" r="2.0" fill="#FFB900"/>
<circle cx="102.30" cy="414.79" r="2.0" fill="#FFB900"/>
<circle cx="122.61" cy="416.04" r="2.0" fill="#FFB900"/>
<circle cx="142.93" cy="415.61" r="2.0" fill="#FFB900"/>
<circle cx="163.24" cy="407.14" r="2.0" fill="#FFB900"/>
<text x="101.30" y="335.80" text-anchor="middle" font-family="'Liberation Serif', serif" font-size="12.5" fill="#111" stroke="#111" stroke-width="0.2">Anhe Basin</text>
<text x="101.30" y="350.50" text-anchor="middle" font-family="'Liberation Serif', serif" font-size="12.5" fill="#111" stroke="#111" stroke-width="0.2">Flood number:20210530</text>
<text transform="translate(10.70,398.70) rotate(-90)" text-anchor="middle" font-family="'Liberation Serif', serif" font-size="8.35" fill="#1a1a1a" stroke="#1a1a1a" stroke-width="0.12">Accuracy evaluation</text>
<text x="99.20" y="456.60" text-anchor="middle" font-family="'Liberation Serif', serif" font-size="8.4" fill="#1a1a1a" stroke="#1a1a1a" stroke-width="0.12">Resolution</text>
<line x1="36.30" y1="474.20" x2="50.90" y2="474.20" stroke="#1763C6" stroke-width="1.6"/>
<circle cx="43.60" cy="474.20" r="2.0" fill="#1763C6"/>
<text x="54.40" y="475.90" font-family="'Liberation Serif', serif" font-size="5" fill="#333" stroke="#333" stroke-width="0.12" textLength="7.37" lengthAdjust="spacingAndGlyphs">NSE</text>
<line x1="66.60" y1="474.20" x2="81.20" y2="474.20" stroke="#F6701F" stroke-width="1.6"/>
<circle cx="73.90" cy="474.20" r="2.0" fill="#F6701F"/>
<text x="85.20" y="475.90" font-family="'Liberation Serif', serif" font-size="5" fill="#333" stroke="#333" stroke-width="0.12" textLength="2.60" lengthAdjust="spacingAndGlyphs">R</text>
<line x1="90.80" y1="474.20" x2="105.40" y2="474.20" stroke="#969696" stroke-width="1.6"/>
<circle cx="98.10" cy="474.20" r="2.0" fill="#969696"/>
<text x="109.20" y="475.90" font-family="'Liberation Serif', serif" font-size="5" fill="#333" stroke="#333" stroke-width="0.12" textLength="4.98" lengthAdjust="spacingAndGlyphs">RE</text>
<line x1="118.10" y1="474.20" x2="132.70" y2="474.20" stroke="#FFB900" stroke-width="1.6"/>
<circle cx="125.40" cy="474.20" r="2.0" fill="#FFB900"/>
<text x="136.90" y="475.90" font-family="'Liberation Serif', serif" font-size="5" fill="#333" stroke="#333" stroke-width="0.12" textLength="4.55" lengthAdjust="spacingAndGlyphs">PE</text>
<line x1="214.00" y1="424.40" x2="357.70" y2="424.40" stroke="#DCDCDC" stroke-width="0.8"/>
<text x="207.70" y="427.10" text-anchor="end" font-family="'Liberation Sans', sans-serif" font-size="6.4" fill="#858585" textLength="3.24" lengthAdjust="spacingAndGlyphs">0</text>
<line x1="214.00" y1="415.41" x2="357.70" y2="415.41" stroke="#DCDCDC" stroke-width="0.8"/>
<text x="207.70" y="418.11" text-anchor="end" font-family="'Liberation Sans', sans-serif" font-size="6.4" fill="#858585" textLength="8.10" lengthAdjust="spacingAndGlyphs">0.2</text>
<line x1="214.00" y1="406.43" x2="357.70" y2="406.43" stroke="#DCDCDC" stroke-width="0.8"/>
<text x="207.70" y="409.13" text-anchor="end" font-family="'Liberation Sans', sans-serif" font-size="6.4" fill="#858585" textLength="8.10" lengthAdjust="spacingAndGlyphs">0.4</text>
<line x1="214.00" y1="397.44" x2="357.70" y2="397.44" stroke="#DCDCDC" stroke-width="0.8"/>
<text x="207.70" y="400.14" text-anchor="end" font-family="'Liberation Sans', sans-serif" font-size="6.4" fill="#858585" textLength="8.10" lengthAdjust="spacingAndGlyphs">0.6</text>
<line x1="214.00" y1="388.46" x2="357.70" y2="388.46" stroke="#DCDCDC" stroke-width="0.8"/>
<text x="207.70" y="391.16" text-anchor="end" font-family="'Liberation Sans', sans-serif" font-size="6.4" fill="#858585" textLength="8.10" lengthAdjust="spacingAndGlyphs">0.8</text>
<line x1="214.00" y1="379.47" x2="357.70" y2="379.47" stroke="#DCDCDC" stroke-width="0.8"/>
<text x="207.70" y="382.17" text-anchor="end" font-family="'Liberation Sans', sans-serif" font-size="6.4" fill="#858585" textLength="3.24" lengthAdjust="spacingAndGlyphs">1</text>
<line x1="214.00" y1="370.49" x2="357.70" y2="370.49" stroke="#DCDCDC" stroke-width="0.8"/>
<text x="207.70" y="373.19" text-anchor="end" font-family="'Liberation Sans', sans-serif" font-size="6.4" fill="#858585" textLength="8.10" lengthAdjust="spacingAndGlyphs">1.2</text>
<line x1="214.00" y1="361.50" x2="357.70" y2="361.50" stroke="#DCDCDC" stroke-width="0.8"/>
<text x="207.70" y="364.20" text-anchor="end" font-family="'Liberation Sans', sans-serif" font-size="6.4" fill="#858585" textLength="8.10" lengthAdjust="spacingAndGlyphs">1.4</text>
<line x1="214.00" y1="424.40" x2="214.00" y2="448.90" stroke="#DCDCDC" stroke-width="0.8"/>
<line x1="237.95" y1="424.40" x2="237.95" y2="448.90" stroke="#DCDCDC" stroke-width="0.8"/>
<line x1="261.90" y1="424.40" x2="261.90" y2="448.90" stroke="#DCDCDC" stroke-width="0.8"/>
<line x1="285.85" y1="424.40" x2="285.85" y2="448.90" stroke="#DCDCDC" stroke-width="0.8"/>
<line x1="309.80" y1="424.40" x2="309.80" y2="448.90" stroke="#DCDCDC" stroke-width="0.8"/>
<line x1="333.75" y1="424.40" x2="333.75" y2="448.90" stroke="#DCDCDC" stroke-width="0.8"/>
<line x1="357.70" y1="424.40" x2="357.70" y2="448.90" stroke="#DCDCDC" stroke-width="0.8"/>
<line x1="214.00" y1="424.40" x2="357.70" y2="424.40" stroke="#DCDCDC" stroke-width="0.8"/>
<text x="225.97" y="434.90" text-anchor="middle" font-family="'Liberation Sans', sans-serif" font-size="6.4" fill="#656565" textLength="11.32" lengthAdjust="spacingAndGlyphs">First</text>
<text x="225.97" y="447.10" text-anchor="middle" font-family="'Liberation Sans', sans-serif" font-size="6.4" fill="#656565" textLength="11.33" lengthAdjust="spacingAndGlyphs">30m</text>
<text x="249.93" y="434.90" text-anchor="middle" font-family="'Liberation Sans', sans-serif" font-size="6.4" fill="#656565" textLength="11.32" lengthAdjust="spacingAndGlyphs">First</text>
<text x="249.93" y="447.10" text-anchor="middle" font-family="'Liberation Sans', sans-serif" font-size="6.4" fill="#656565" textLength="11.33" lengthAdjust="spacingAndGlyphs">90m</text>
<text x="273.88" y="434.90" text-anchor="middle" font-family="'Liberation Sans', sans-serif" font-size="6.4" fill="#656565" textLength="11.32" lengthAdjust="spacingAndGlyphs">First</text>
<text x="273.88" y="447.10" text-anchor="middle" font-family="'Liberation Sans', sans-serif" font-size="6.4" fill="#656565" textLength="14.57" lengthAdjust="spacingAndGlyphs">150m</text>
<text x="297.82" y="434.90" text-anchor="middle" font-family="'Liberation Sans', sans-serif" font-size="6.4" fill="#656565" textLength="11.32" lengthAdjust="spacingAndGlyphs">First</text>
<text x="297.82" y="447.10" text-anchor="middle" font-family="'Liberation Sans', sans-serif" font-size="6.4" fill="#656565" textLength="14.57" lengthAdjust="spacingAndGlyphs">200m</text>
<text x="321.77" y="434.90" text-anchor="middle" font-family="'Liberation Sans', sans-serif" font-size="6.4" fill="#656565" textLength="11.32" lengthAdjust="spacingAndGlyphs">First</text>
<text x="321.77" y="447.10" text-anchor="middle" font-family="'Liberation Sans', sans-serif" font-size="6.4" fill="#656565" textLength="14.57" lengthAdjust="spacingAndGlyphs">300m</text>
<text x="345.73" y="434.90" text-anchor="middle" font-family="'Liberation Sans', sans-serif" font-size="6.4" fill="#656565" textLength="11.32" lengthAdjust="spacingAndGlyphs">First</text>
<text x="345.73" y="447.10" text-anchor="middle" font-family="'Liberation Sans', sans-serif" font-size="6.4" fill="#656565" textLength="14.57" lengthAdjust="spacingAndGlyphs">400m</text>
<polyline points="225.97,387.56 249.93,387.11 273.88,388.10 297.82,389.58 321.77,393.17 345.73,400.50" fill="none" stroke="#1C8EDD" stroke-width="1.9" stroke-linejoin="round" stroke-linecap="round"/>
<circle cx="225.97" cy="387.56" r="2.0" fill="#1C8EDD"/>
<circle cx="249.93" cy="387.11" r="2.0" fill="#1C8EDD"/>
<circle cx="273.88" cy="388.10" r="2.0" fill="#1C8EDD"/>
<circle cx="297.82" cy="389.58" r="2.0" fill="#1C8EDD"/>
<circle cx="321.77" cy="393.17" r="2.0" fill="#1C8EDD"/>
<circle cx="345.73" cy="400.50" r="2.0" fill="#1C8EDD"/>
<polyline points="225.97,383.07 249.93,383.38 273.88,383.96 297.82,384.41 321.77,385.90 345.73,391.87" fill="none" stroke="#F6701F" stroke-width="1.9" stroke-linejoin="round" stroke-linecap="round"/>
<circle cx="225.97" cy="383.07" r="2.0" fill="#F6701F"/>
<circle cx="249.93" cy="383.38" r="2.0" fill="#F6701F"/>
<circle cx="273.88" cy="383.96" r="2.0" fill="#F6701F"/>
<circle cx="297.82" cy="384.41" r="2.0" fill="#F6701F"/>
<circle cx="321.77" cy="385.90" r="2.0" fill="#F6701F"/>
<circle cx="345.73" cy="391.87" r="2.0" fill="#F6701F"/>
<polyline points="225.97,381.40 249.93,377.22 273.88,372.60 297.82,377.76 321.77,378.57 345.73,363.30" fill="none" stroke="#969696" stroke-width="1.9" stroke-linejoin="round" stroke-linecap="round"/>
<circle cx="225.97" cy="381.40" r="2.0" fill="#969696"/>
<circle cx="249.93" cy="377.22" r="2.0" fill="#969696"/>
<circle cx="273.88" cy="372.60" r="2.0" fill="#969696"/>
<circle cx="297.82" cy="377.76" r="2.0" fill="#969696"/>
<circle cx="321.77" cy="378.57" r="2.0" fill="#969696"/>
<circle cx="345.73" cy="363.30" r="2.0" fill="#969696"/>
<polyline points="225.97,423.41 249.93,422.78 273.88,420.13 297.82,415.86 321.77,411.51 345.73,412.81" fill="none" stroke="#FFB900" stroke-width="1.9" stroke-linejoin="round" stroke-linecap="round"/>
<circle cx="225.97" cy="423.41" r="2.0" fill="#FFB900"/>
<circle cx="249.93" cy="422.78" r="2.0" fill="#FFB900"/>
<circle cx="273.88" cy="420.13" r="2.0" fill="#FFB900"/>
<circle cx="297.82" cy="415.86" r="2.0" fill="#FFB900"/>
<circle cx="321.77" cy="411.51" r="2.0" fill="#FFB900"/>
<circle cx="345.73" cy="412.81" r="2.0" fill="#FFB900"/>
<text x="286.80" y="335.30" text-anchor="middle" font-family="'Liberation Serif', serif" font-size="12.5" fill="#111" stroke="#111" stroke-width="0.2">Dutou Basin</text>
<text x="286.80" y="350.50" text-anchor="middle" font-family="'Liberation Serif', serif" font-size="12.5" fill="#111" stroke="#111" stroke-width="0.2">Flood number:20160826</text>
<text transform="translate(196.50,392.00) rotate(-90)" text-anchor="middle" font-family="'Liberation Serif', serif" font-size="8.35" fill="#1a1a1a" stroke="#1a1a1a" stroke-width="0.12">Accuracy evaluation</text>
<text x="283.80" y="456.40" text-anchor="middle" font-family="'Liberation Serif', serif" font-size="8.4" fill="#1a1a1a" stroke="#1a1a1a" stroke-width="0.12">Resolution</text>
<line x1="222.30" y1="473.80" x2="236.90" y2="473.80" stroke="#1C8EDD" stroke-width="1.6"/>
<circle cx="229.60" cy="473.80" r="2.0" fill="#1C8EDD"/>
<text x="240.40" y="475.50" font-family="'Liberation Serif', serif" font-size="5" fill="#333" stroke="#333" stroke-width="0.12" textLength="7.37" lengthAdjust="spacingAndGlyphs">NSE</text>
<line x1="252.60" y1="473.80" x2="267.20" y2="473.80" stroke="#F6701F" stroke-width="1.6"/>
<circle cx="259.90" cy="473.80" r="2.0" fill="#F6701F"/>
<text x="271.20" y="475.50" font-family="'Liberation Serif', serif" font-size="5" fill="#333" stroke="#333" stroke-width="0.12" textLength="2.60" lengthAdjust="spacingAndGlyphs">R</text>
<line x1="276.80" y1="473.80" x2="291.40" y2="473.80" stroke="#969696" stroke-width="1.6"/>
<circle cx="284.10" cy="473.80" r="2.0" fill="#969696"/>
<text x="295.20" y="475.50" font-family="'Liberation Serif', serif" font-size="5" fill="#333" stroke="#333" stroke-width="0.12" textLength="4.98" lengthAdjust="spacingAndGlyphs">RE</text>
<line x1="304.10" y1="473.80" x2="318.70" y2="473.80" stroke="#FFB900" stroke-width="1.6"/>
<circle cx="311.40" cy="473.80" r="2.0" fill="#FFB900"/>
<text x="322.90" y="475.50" font-family="'Liberation Serif', serif" font-size="5" fill="#333" stroke="#333" stroke-width="0.12" textLength="4.55" lengthAdjust="spacingAndGlyphs">PE</text>
<line x1="398.90" y1="424.30" x2="542.70" y2="424.30" stroke="#DCDCDC" stroke-width="0.8"/>
<text x="393.90" y="427.00" text-anchor="end" font-family="'Liberation Sans', sans-serif" font-size="6.4" fill="#858585" textLength="3.24" lengthAdjust="spacingAndGlyphs">0</text>
<line x1="398.90" y1="411.78" x2="542.70" y2="411.78" stroke="#DCDCDC" stroke-width="0.8"/>
<text x="393.90" y="414.48" text-anchor="end" font-family="'Liberation Sans', sans-serif" font-size="6.4" fill="#858585" textLength="8.10" lengthAdjust="spacingAndGlyphs">0.2</text>
<line x1="398.90" y1="399.26" x2="542.70" y2="399.26" stroke="#DCDCDC" stroke-width="0.8"/>
<text x="393.90" y="401.96" text-anchor="end" font-family="'Liberation Sans', sans-serif" font-size="6.4" fill="#858585" textLength="8.10" lengthAdjust="spacingAndGlyphs">0.4</text>
<line x1="398.90" y1="386.74" x2="542.70" y2="386.74" stroke="#DCDCDC" stroke-width="0.8"/>
<text x="393.90" y="389.44" text-anchor="end" font-family="'Liberation Sans', sans-serif" font-size="6.4" fill="#858585" textLength="8.10" lengthAdjust="spacingAndGlyphs">0.6</text>
<line x1="398.90" y1="374.22" x2="542.70" y2="374.22" stroke="#DCDCDC" stroke-width="0.8"/>
<text x="393.90" y="376.92" text-anchor="end" font-family="'Liberation Sans', sans-serif" font-size="6.4" fill="#858585" textLength="8.10" lengthAdjust="spacingAndGlyphs">0.8</text>
<line x1="398.90" y1="361.70" x2="542.70" y2="361.70" stroke="#DCDCDC" stroke-width="0.8"/>
<text x="393.90" y="364.40" text-anchor="end" font-family="'Liberation Sans', sans-serif" font-size="6.4" fill="#858585" textLength="3.24" lengthAdjust="spacingAndGlyphs">1</text>
<line x1="398.90" y1="424.30" x2="398.90" y2="448.80" stroke="#DCDCDC" stroke-width="0.8"/>
<line x1="419.44" y1="424.30" x2="419.44" y2="448.80" stroke="#DCDCDC" stroke-width="0.8"/>
<line x1="439.99" y1="424.30" x2="439.99" y2="448.80" stroke="#DCDCDC" stroke-width="0.8"/>
<line x1="460.53" y1="424.30" x2="460.53" y2="448.80" stroke="#DCDCDC" stroke-width="0.8"/>
<line x1="481.07" y1="424.30" x2="481.07" y2="448.80" stroke="#DCDCDC" stroke-width="0.8"/>
<line x1="501.61" y1="424.30" x2="501.61" y2="448.80" stroke="#DCDCDC" stroke-width="0.8"/>
<line x1="522.16" y1="424.30" x2="522.16" y2="448.80" stroke="#DCDCDC" stroke-width="0.8"/>
<line x1="542.70" y1="424.30" x2="542.70" y2="448.80" stroke="#DCDCDC" stroke-width="0.8"/>
<line x1="398.90" y1="424.30" x2="542.70" y2="424.30" stroke="#DCDCDC" stroke-width="0.8"/>
<text x="409.17" y="434.80" text-anchor="middle" font-family="'Liberation Sans', sans-serif" font-size="6.4" fill="#656565" textLength="11.32" lengthAdjust="spacingAndGlyphs">First</text>
<text x="409.17" y="447.00" text-anchor="middle" font-family="'Liberation Sans', sans-serif" font-size="6.4" fill="#656565" textLength="11.33" lengthAdjust="spacingAndGlyphs">30m</text>
<text x="429.71" y="434.80" text-anchor="middle" font-family="'Liberation Sans', sans-serif" font-size="6.4" fill="#656565" textLength="11.32" lengthAdjust="spacingAndGlyphs">First</text>
<text x="429.71" y="447.00" text-anchor="middle" font-family="'Liberation Sans', sans-serif" font-size="6.4" fill="#656565" textLength="11.33" lengthAdjust="spacingAndGlyphs">90m</text>
<text x="450.26" y="434.80" text-anchor="middle" font-family="'Liberation Sans', sans-serif" font-size="6.4" fill="#656565" textLength="11.32" lengthAdjust="spacingAndGlyphs">First</text>
<text x="450.26" y="447.00" text-anchor="middle" font-family="'Liberation Sans', sans-serif" font-size="6.4" fill="#656565" textLength="14.57" lengthAdjust="spacingAndGlyphs">150m</text>
<text x="470.80" y="434.80" text-anchor="middle" font-family="'Liberation Sans', sans-serif" font-size="6.4" fill="#656565" textLength="11.32" lengthAdjust="spacingAndGlyphs">First</text>
<text x="470.80" y="447.00" text-anchor="middle" font-family="'Liberation Sans', sans-serif" font-size="6.4" fill="#656565" textLength="14.57" lengthAdjust="spacingAndGlyphs">200m</text>
<text x="491.34" y="434.80" text-anchor="middle" font-family="'Liberation Sans', sans-serif" font-size="6.4" fill="#656565" textLength="11.32" lengthAdjust="spacingAndGlyphs">First</text>
<text x="491.34" y="447.00" text-anchor="middle" font-family="'Liberation Sans', sans-serif" font-size="6.4" fill="#656565" textLength="14.57" lengthAdjust="spacingAndGlyphs">300m</text>
<text x="511.89" y="434.80" text-anchor="middle" font-family="'Liberation Sans', sans-serif" font-size="6.4" fill="#656565" textLength="11.32" lengthAdjust="spacingAndGlyphs">First</text>
<text x="511.89" y="447.00" text-anchor="middle" font-family="'Liberation Sans', sans-serif" font-size="6.4" fill="#656565" textLength="14.57" lengthAdjust="spacingAndGlyphs">400m</text>
<text x="532.43" y="434.80" text-anchor="middle" font-family="'Liberation Sans', sans-serif" font-size="6.4" fill="#656565" textLength="11.32" lengthAdjust="spacingAndGlyphs">First</text>
<text x="532.43" y="447.00" text-anchor="middle" font-family="'Liberation Sans', sans-serif" font-size="6.4" fill="#656565" textLength="14.57" lengthAdjust="spacingAndGlyphs">500m</text>
<polyline points="409.17,385.49 429.71,386.11 450.26,384.99 470.80,383.48 491.34,386.11 511.89,385.18 532.43,393.13" fill="none" stroke="#1763C6" stroke-width="1.9" stroke-linejoin="round" stroke-linecap="round"/>
<circle cx="409.17" cy="385.49" r="2.0" fill="#1763C6"/>
<circle cx="429.71" cy="386.11" r="2.0" fill="#1763C6"/>
<circle cx="450.26" cy="384.99" r="2.0" fill="#1763C6"/>
<circle cx="470.80" cy="383.48" r="2.0" fill="#1763C6"/>
<circle cx="491.34" cy="386.11" r="2.0" fill="#1763C6"/>
<circle cx="511.89" cy="385.18" r="2.0" fill="#1763C6"/>
<circle cx="532.43" cy="393.13" r="2.0" fill="#1763C6"/>
<polyline points="409.17,369.34 429.71,370.65 450.26,365.46 470.80,365.64 491.34,367.65 511.89,367.65 532.43,373.16" fill="none" stroke="#F6701F" stroke-width="1.9" stroke-linejoin="round" stroke-linecap="round"/>
<circle cx="409.17" cy="369.34" r="2.0" fill="#F6701F"/>
<circle cx="429.71" cy="370.65" r="2.0" fill="#F6701F"/>
<circle cx="450.26" cy="365.46" r="2.0" fill="#F6701F"/>
<circle cx="470.80" cy="365.64" r="2.0" fill="#F6701F"/>
<circle cx="491.34" cy="367.65" r="2.0" fill="#F6701F"/>
<circle cx="511.89" cy="367.65" r="2.0" fill="#F6701F"/>
<circle cx="532.43" cy="373.16" r="2.0" fill="#F6701F"/>
<polyline points="409.17,401.64 429.71,393.00 450.26,389.62 470.80,387.12 491.34,387.37 511.89,387.37 532.43,390.31" fill="none" stroke="#969696" stroke-width="1.9" stroke-linejoin="round" stroke-linecap="round"/>
<circle cx="409.17" cy="401.64" r="2.0" fill="#969696"/>
<circle cx="429.71" cy="393.00" r="2.0" fill="#969696"/>
<circle cx="450.26" cy="389.62" r="2.0" fill="#969696"/>
<circle cx="470.80" cy="387.12" r="2.0" fill="#969696"/>
<circle cx="491.34" cy="387.37" r="2.0" fill="#969696"/>
<circle cx="511.89" cy="387.37" r="2.0" fill="#969696"/>
<circle cx="532.43" cy="390.31" r="2.0" fill="#969696"/>
<polyline points="409.17,421.42 429.71,420.79 450.26,423.80 470.80,417.60 491.34,416.48 511.89,408.96 532.43,399.64" fill="none" stroke="#FFB900" stroke-width="1.9" stroke-linejoin="round" stroke-linecap="round"/>
<circle cx="409.17" cy="421.42" r="2.0" fill="#FFB900"/>
<circle cx="429.71" cy="420.79" r="2.0" fill="#FFB900"/>
<circle cx="450.26" cy="423.80" r="2.0" fill="#FFB900"/>
<circle cx="470.80" cy="417.60" r="2.0" fill="#FFB900"/>
<circle cx="491.34" cy="416.48" r="2.0" fill="#FFB900"/>
<circle cx="511.89" cy="408.96" r="2.0" fill="#FFB900"/>
<circle cx="532.43" cy="399.64" r="2.0" fill="#FFB900"/>
<text x="468.30" y="335.30" text-anchor="middle" font-family="'Liberation Serif', serif" font-size="12.5" fill="#111" stroke="#111" stroke-width="0.2">Mazhou Basin</text>
<text x="468.30" y="350.50" text-anchor="middle" font-family="'Liberation Serif', serif" font-size="12.5" fill="#111" stroke="#111" stroke-width="0.2">Flood number:20190623</text>
<text transform="translate(381.20,388.50) rotate(-90)" text-anchor="middle" font-family="'Liberation Serif', serif" font-size="8.35" fill="#1a1a1a" stroke="#1a1a1a" stroke-width="0.12">Accuracy evaluation</text>
<text x="468.00" y="456.40" text-anchor="middle" font-family="'Liberation Serif', serif" font-size="8.4" fill="#1a1a1a" stroke="#1a1a1a" stroke-width="0.12">Resolution</text>
<line x1="406.80" y1="474.00" x2="421.40" y2="474.00" stroke="#1763C6" stroke-width="1.6"/>
<circle cx="414.10" cy="474.00" r="2.0" fill="#1763C6"/>
<text x="424.90" y="475.70" font-family="'Liberation Serif', serif" font-size="5" fill="#333" stroke="#333" stroke-width="0.12" textLength="7.37" lengthAdjust="spacingAndGlyphs">NSE</text>
<line x1="437.10" y1="474.00" x2="451.70" y2="474.00" stroke="#F6701F" stroke-width="1.6"/>
<circle cx="444.40" cy="474.00" r="2.0" fill="#F6701F"/>
<text x="455.70" y="475.70" font-family="'Liberation Serif', serif" font-size="5" fill="#333" stroke="#333" stroke-width="0.12" textLength="2.60" lengthAdjust="spacingAndGlyphs">R</text>
<line x1="461.30" y1="474.00" x2="475.90" y2="474.00" stroke="#969696" stroke-width="1.6"/>
<circle cx="468.60" cy="474.00" r="2.0" fill="#969696"/>
<text x="479.70" y="475.70" font-family="'Liberation Serif', serif" font-size="5" fill="#333" stroke="#333" stroke-width="0.12" textLength="4.98" lengthAdjust="spacingAndGlyphs">RE</text>
<line x1="488.60" y1="474.00" x2="503.20" y2="474.00" stroke="#FFB900" stroke-width="1.6"/>
<circle cx="495.90" cy="474.00" r="2.0" fill="#FFB900"/>
<text x="507.40" y="475.70" font-family="'Liberation Serif', serif" font-size="5" fill="#333" stroke="#333" stroke-width="0.12" textLength="4.55" lengthAdjust="spacingAndGlyphs">PE</text>
</svg>
</body></html>
